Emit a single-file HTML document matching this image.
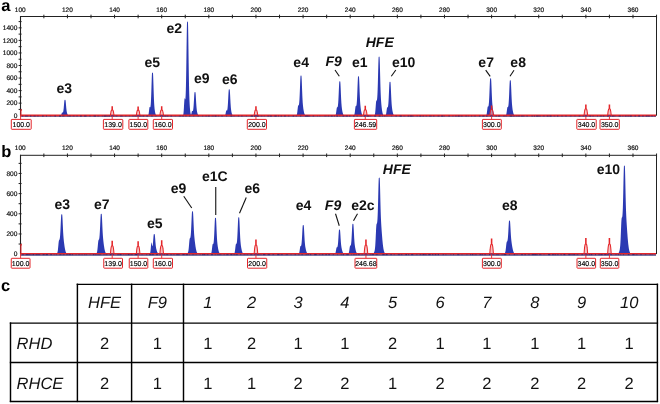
<!DOCTYPE html>
<html><head><meta charset="utf-8"><style>
html,body{margin:0;padding:0;background:#fff;}
svg{display:block;}
text{font-family:"Liberation Sans",Arial,sans-serif;text-rendering:geometricPrecision;}
.ax{font-size:6.5px;fill:#111;stroke:#111;stroke-width:0.2px;}
.ay{font-size:6.6px;fill:#111;stroke:#111;stroke-width:0.2px;}
.bx{font-size:7px;fill:#000;stroke:#000;stroke-width:0.15px;}
.lb{font-size:14px;font-weight:bold;fill:#111;}
.it{font-style:italic;}
.pl{font-size:16.5px;font-weight:bold;fill:#000;}
.tb{font-size:16.5px;fill:#111;}
</style></head><body>
<svg width="660" height="404" viewBox="0 0 660 404">
<rect width="660" height="404" fill="#fff"/>
<line x1="20" y1="16.50" x2="657" y2="16.50" stroke="#222" stroke-width="1"/>
<line x1="20.5" y1="16.00" x2="20.5" y2="115.70" stroke="#222" stroke-width="1.1"/>
<line x1="656.5" y1="16.00" x2="656.5" y2="115.70" stroke="#222" stroke-width="1"/>
<line x1="43.87" y1="14.70" x2="43.87" y2="18.30" stroke="#222" stroke-width="1"/>
<line x1="67.43" y1="14.70" x2="67.43" y2="18.30" stroke="#222" stroke-width="1"/>
<line x1="91.00" y1="14.70" x2="91.00" y2="18.30" stroke="#222" stroke-width="1"/>
<line x1="114.56" y1="14.70" x2="114.56" y2="18.30" stroke="#222" stroke-width="1"/>
<line x1="138.12" y1="14.70" x2="138.12" y2="18.30" stroke="#222" stroke-width="1"/>
<line x1="161.69" y1="14.70" x2="161.69" y2="18.30" stroke="#222" stroke-width="1"/>
<line x1="185.26" y1="14.70" x2="185.26" y2="18.30" stroke="#222" stroke-width="1"/>
<line x1="208.82" y1="14.70" x2="208.82" y2="18.30" stroke="#222" stroke-width="1"/>
<line x1="232.39" y1="14.70" x2="232.39" y2="18.30" stroke="#222" stroke-width="1"/>
<line x1="255.95" y1="14.70" x2="255.95" y2="18.30" stroke="#222" stroke-width="1"/>
<line x1="279.52" y1="14.70" x2="279.52" y2="18.30" stroke="#222" stroke-width="1"/>
<line x1="303.08" y1="14.70" x2="303.08" y2="18.30" stroke="#222" stroke-width="1"/>
<line x1="326.65" y1="14.70" x2="326.65" y2="18.30" stroke="#222" stroke-width="1"/>
<line x1="350.21" y1="14.70" x2="350.21" y2="18.30" stroke="#222" stroke-width="1"/>
<line x1="373.78" y1="14.70" x2="373.78" y2="18.30" stroke="#222" stroke-width="1"/>
<line x1="397.34" y1="14.70" x2="397.34" y2="18.30" stroke="#222" stroke-width="1"/>
<line x1="420.91" y1="14.70" x2="420.91" y2="18.30" stroke="#222" stroke-width="1"/>
<line x1="444.47" y1="14.70" x2="444.47" y2="18.30" stroke="#222" stroke-width="1"/>
<line x1="468.04" y1="14.70" x2="468.04" y2="18.30" stroke="#222" stroke-width="1"/>
<line x1="491.60" y1="14.70" x2="491.60" y2="18.30" stroke="#222" stroke-width="1"/>
<line x1="515.16" y1="14.70" x2="515.16" y2="18.30" stroke="#222" stroke-width="1"/>
<line x1="538.73" y1="14.70" x2="538.73" y2="18.30" stroke="#222" stroke-width="1"/>
<line x1="562.29" y1="14.70" x2="562.29" y2="18.30" stroke="#222" stroke-width="1"/>
<line x1="585.86" y1="14.70" x2="585.86" y2="18.30" stroke="#222" stroke-width="1"/>
<line x1="609.42" y1="14.70" x2="609.42" y2="18.30" stroke="#222" stroke-width="1"/>
<line x1="632.99" y1="14.70" x2="632.99" y2="18.30" stroke="#222" stroke-width="1"/>
<line x1="656.55" y1="14.70" x2="656.55" y2="18.30" stroke="#222" stroke-width="1"/>
<text x="20.30" y="11.80" class="ax" text-anchor="middle">100</text>
<text x="67.43" y="11.80" class="ax" text-anchor="middle">120</text>
<text x="114.56" y="11.80" class="ax" text-anchor="middle">140</text>
<text x="161.69" y="11.80" class="ax" text-anchor="middle">160</text>
<text x="208.82" y="11.80" class="ax" text-anchor="middle">180</text>
<text x="255.95" y="11.80" class="ax" text-anchor="middle">200</text>
<text x="303.08" y="11.80" class="ax" text-anchor="middle">220</text>
<text x="350.21" y="11.80" class="ax" text-anchor="middle">240</text>
<text x="397.34" y="11.80" class="ax" text-anchor="middle">260</text>
<text x="444.47" y="11.80" class="ax" text-anchor="middle">280</text>
<text x="491.60" y="11.80" class="ax" text-anchor="middle">300</text>
<text x="538.73" y="11.80" class="ax" text-anchor="middle">320</text>
<text x="585.86" y="11.80" class="ax" text-anchor="middle">340</text>
<text x="632.99" y="11.80" class="ax" text-anchor="middle">360</text>
<line x1="18.6" y1="109.42" x2="21.6" y2="109.42" stroke="#222" stroke-width="1"/>
<line x1="18.6" y1="103.15" x2="21.6" y2="103.15" stroke="#222" stroke-width="1"/>
<line x1="18.6" y1="96.88" x2="21.6" y2="96.88" stroke="#222" stroke-width="1"/>
<line x1="18.6" y1="90.60" x2="21.6" y2="90.60" stroke="#222" stroke-width="1"/>
<line x1="18.6" y1="84.33" x2="21.6" y2="84.33" stroke="#222" stroke-width="1"/>
<line x1="18.6" y1="78.05" x2="21.6" y2="78.05" stroke="#222" stroke-width="1"/>
<line x1="18.6" y1="71.78" x2="21.6" y2="71.78" stroke="#222" stroke-width="1"/>
<line x1="18.6" y1="65.50" x2="21.6" y2="65.50" stroke="#222" stroke-width="1"/>
<line x1="18.6" y1="59.23" x2="21.6" y2="59.23" stroke="#222" stroke-width="1"/>
<line x1="18.6" y1="52.95" x2="21.6" y2="52.95" stroke="#222" stroke-width="1"/>
<line x1="18.6" y1="46.67" x2="21.6" y2="46.67" stroke="#222" stroke-width="1"/>
<line x1="18.6" y1="40.40" x2="21.6" y2="40.40" stroke="#222" stroke-width="1"/>
<line x1="18.6" y1="34.12" x2="21.6" y2="34.12" stroke="#222" stroke-width="1"/>
<line x1="18.6" y1="27.85" x2="21.6" y2="27.85" stroke="#222" stroke-width="1"/>
<line x1="18.6" y1="21.58" x2="21.6" y2="21.58" stroke="#222" stroke-width="1"/>
<text x="17.4" y="118.00" class="ay" text-anchor="end">0</text>
<text x="17.4" y="105.45" class="ay" text-anchor="end">200</text>
<text x="17.4" y="92.90" class="ay" text-anchor="end">400</text>
<text x="17.4" y="80.35" class="ay" text-anchor="end">600</text>
<text x="17.4" y="67.80" class="ay" text-anchor="end">800</text>
<text x="17.4" y="55.25" class="ay" text-anchor="end">1000</text>
<text x="17.4" y="42.70" class="ay" text-anchor="end">1200</text>
<text x="17.4" y="30.15" class="ay" text-anchor="end">1400</text>
<path d="M58.50,115.70 L58.15,115.70 L58.25,115.70 L58.35,115.70 L58.45,115.70 L58.55,115.70 L58.65,115.70 L58.75,115.70 L58.85,115.70 L58.95,115.70 L59.05,115.70 L59.15,115.70 L59.25,115.70 L59.35,115.70 L59.45,115.70 L59.55,115.70 L59.65,115.70 L59.75,115.70 L59.85,115.70 L59.95,115.69 L60.05,115.69 L60.15,115.68 L60.25,115.68 L60.35,115.66 L60.45,115.64 L60.55,115.61 L60.65,115.57 L60.75,115.51 L60.85,115.42 L60.95,115.30 L61.05,115.14 L61.15,114.95 L61.25,114.71 L61.35,114.44 L61.45,114.14 L61.55,113.83 L61.65,113.51 L61.75,113.21 L61.85,112.95 L61.95,112.74 L62.05,112.58 L62.15,112.49 L62.25,112.46 L62.35,112.47 L62.45,112.51 L62.55,112.55 L62.65,112.58 L62.75,112.57 L62.85,112.51 L62.95,112.38 L63.05,112.17 L63.15,111.86 L63.25,111.46 L63.35,110.94 L63.45,110.30 L63.55,109.55 L63.65,108.67 L63.75,107.67 L63.85,106.58 L63.95,105.43 L64.05,104.24 L64.15,103.09 L64.25,102.02 L64.35,101.10 L64.45,100.40 L64.55,99.95 L65.00,99.80 L65.45,99.95 L65.55,100.40 L65.65,101.10 L65.75,102.02 L65.85,103.09 L65.95,104.25 L66.05,105.43 L66.15,106.60 L66.25,107.70 L66.35,108.70 L66.45,109.60 L66.55,110.40 L66.65,111.08 L66.75,111.68 L66.85,112.19 L66.95,112.62 L67.05,113.01 L67.15,113.34 L67.25,113.63 L67.35,113.89 L67.45,114.13 L67.55,114.34 L67.65,114.52 L67.75,114.69 L67.85,114.84 L67.95,114.97 L68.05,115.08 L68.15,115.18 L68.25,115.27 L68.35,115.34 L68.45,115.41 L68.55,115.46 L68.65,115.51 L68.75,115.54 L68.85,115.57 L68.95,115.60 L69.05,115.62 L69.15,115.64 L69.25,115.65 L69.35,115.66 L69.45,115.67 L69.55,115.68 L69.65,115.68 L69.75,115.69 L69.85,115.69 L69.95,115.69 L70.05,115.69 L70.15,115.70 L70.25,115.70 L70.35,115.70 L70.45,115.70 L70.55,115.70 L70.65,115.70 L70.75,115.70 L70.85,115.70 L70.95,115.70 L71.05,115.70 L71.15,115.70 L71.25,115.70 L71.35,115.70 L71.00,115.70 Z" fill="#2b39b2"/>
<path d="M146.00,115.70 L145.65,115.70 L145.75,115.70 L145.85,115.70 L145.95,115.70 L146.05,115.70 L146.15,115.70 L146.25,115.70 L146.35,115.70 L146.45,115.70 L146.55,115.70 L146.65,115.70 L146.75,115.70 L146.85,115.70 L146.95,115.70 L147.05,115.70 L147.15,115.69 L147.25,115.69 L147.35,115.69 L147.45,115.68 L147.55,115.67 L147.65,115.66 L147.75,115.63 L147.85,115.60 L147.95,115.54 L148.05,115.46 L148.15,115.34 L148.25,115.17 L148.35,114.93 L148.45,114.61 L148.55,114.19 L148.65,113.66 L148.75,113.02 L148.85,112.29 L148.95,111.47 L149.05,110.62 L149.15,109.76 L149.25,108.94 L149.35,108.23 L149.45,107.65 L149.55,107.23 L149.65,106.98 L149.75,106.89 L149.85,106.92 L149.95,107.02 L150.05,107.14 L150.15,107.22 L150.25,107.20 L150.35,107.03 L150.45,106.68 L150.55,106.10 L150.65,105.27 L150.75,104.17 L150.85,102.76 L150.95,101.04 L151.05,98.98 L151.15,96.59 L151.25,93.90 L151.35,90.93 L151.45,87.79 L151.55,84.57 L151.65,81.43 L151.75,78.53 L151.85,76.04 L151.95,74.12 L152.05,72.91 L152.50,72.50 L152.95,72.91 L153.05,74.12 L153.15,76.04 L153.25,78.53 L153.35,81.43 L153.45,84.58 L153.55,87.80 L153.65,90.96 L153.75,93.95 L153.85,96.69 L153.95,99.14 L154.05,101.29 L154.15,103.16 L154.25,104.77 L154.35,106.15 L154.45,107.34 L154.55,108.38 L154.65,109.28 L154.75,110.08 L154.85,110.80 L154.95,111.43 L155.05,112.00 L155.15,112.50 L155.25,112.96 L155.35,113.36 L155.45,113.71 L155.55,114.02 L155.65,114.29 L155.75,114.53 L155.85,114.73 L155.95,114.90 L156.05,115.05 L156.15,115.17 L156.25,115.27 L156.35,115.36 L156.45,115.43 L156.55,115.48 L156.65,115.53 L156.75,115.57 L156.85,115.60 L156.95,115.62 L157.05,115.64 L157.15,115.65 L157.25,115.66 L157.35,115.67 L157.45,115.68 L157.55,115.69 L157.65,115.69 L157.75,115.69 L157.85,115.69 L157.95,115.70 L158.05,115.70 L158.15,115.70 L158.25,115.70 L158.35,115.70 L158.45,115.70 L158.55,115.70 L158.65,115.70 L158.75,115.70 L158.85,115.70 L158.50,115.70 Z" fill="#2b39b2"/>
<path d="M181.00,115.70 L180.65,115.70 L180.75,115.70 L180.85,115.70 L180.95,115.70 L181.05,115.70 L181.15,115.70 L181.25,115.70 L181.35,115.70 L181.45,115.70 L181.55,115.70 L181.65,115.70 L181.75,115.70 L181.85,115.70 L181.95,115.70 L182.05,115.70 L182.15,115.70 L182.25,115.69 L182.35,115.69 L182.45,115.68 L182.55,115.67 L182.65,115.65 L182.75,115.61 L182.85,115.55 L182.95,115.45 L183.05,115.29 L183.15,115.06 L183.25,114.71 L183.35,114.23 L183.45,113.57 L183.55,112.71 L183.65,111.62 L183.75,110.31 L183.85,108.79 L183.95,107.10 L184.05,105.33 L184.15,103.57 L184.25,101.93 L184.35,100.50 L184.45,99.37 L184.55,98.60 L184.65,98.21 L184.75,98.15 L184.85,98.35 L184.95,98.70 L185.05,99.08 L185.15,99.35 L185.25,99.38 L185.35,99.06 L185.45,98.30 L185.55,97.03 L185.65,95.17 L185.75,92.67 L185.85,89.48 L185.95,85.57 L186.05,80.91 L186.15,75.50 L186.25,69.39 L186.35,62.70 L186.45,55.61 L186.55,48.37 L186.65,41.31 L186.75,34.80 L186.85,29.22 L186.95,24.93 L187.05,22.22 L187.50,21.30 L187.95,22.22 L188.05,24.93 L188.15,29.22 L188.25,34.80 L188.35,41.32 L188.45,48.39 L188.55,55.65 L188.65,62.77 L188.75,69.51 L188.85,75.70 L188.95,81.25 L189.05,86.13 L189.15,90.35 L189.25,93.98 L189.35,97.08 L189.45,99.74 L189.55,102.01 L189.65,103.98 L189.75,105.68 L189.85,107.16 L189.95,108.45 L190.05,109.57 L190.15,110.55 L190.25,111.40 L190.35,112.14 L190.45,112.76 L190.55,113.30 L190.65,113.75 L190.75,114.13 L190.85,114.44 L190.95,114.70 L191.05,114.91 L191.15,115.08 L191.25,115.22 L191.35,115.33 L191.45,115.42 L191.55,115.49 L191.65,115.54 L191.75,115.58 L191.85,115.61 L191.95,115.63 L192.05,115.65 L192.15,115.67 L192.25,115.67 L192.35,115.68 L192.45,115.69 L192.55,115.69 L192.65,115.69 L192.75,115.70 L192.85,115.70 L192.95,115.70 L193.05,115.70 L193.15,115.70 L193.25,115.70 L193.35,115.70 L193.45,115.70 L193.55,115.70 L193.65,115.70 L193.75,115.70 L193.85,115.70 L193.50,115.70 Z" fill="#2b39b2"/>
<path d="M188.50,115.70 L188.15,115.70 L188.25,115.70 L188.35,115.70 L188.45,115.70 L188.55,115.70 L188.65,115.70 L188.75,115.70 L188.85,115.70 L188.95,115.70 L189.05,115.70 L189.15,115.70 L189.25,115.70 L189.35,115.70 L189.45,115.70 L189.55,115.70 L189.65,115.70 L189.75,115.70 L189.85,115.69 L189.95,115.69 L190.05,115.68 L190.15,115.68 L190.25,115.66 L190.35,115.64 L190.45,115.61 L190.55,115.57 L190.65,115.50 L190.75,115.41 L190.85,115.28 L190.95,115.10 L191.05,114.87 L191.15,114.58 L191.25,114.23 L191.35,113.83 L191.45,113.38 L191.55,112.91 L191.65,112.44 L191.75,111.99 L191.85,111.60 L191.95,111.28 L192.05,111.05 L192.15,110.92 L192.25,110.87 L192.35,110.88 L192.45,110.94 L192.55,111.01 L192.65,111.05 L192.75,111.04 L192.85,110.95 L192.95,110.75 L193.05,110.43 L193.15,109.98 L193.25,109.37 L193.35,108.60 L193.45,107.66 L193.55,106.53 L193.65,105.22 L193.75,103.74 L193.85,102.11 L193.95,100.39 L194.05,98.62 L194.15,96.90 L194.25,95.31 L194.35,93.94 L194.45,92.89 L194.55,92.23 L195.00,92.00 L195.45,92.23 L195.55,92.89 L195.65,93.94 L195.75,95.31 L195.85,96.90 L195.95,98.63 L196.05,100.40 L196.15,102.13 L196.25,103.77 L196.35,105.27 L196.45,106.61 L196.55,107.80 L196.65,108.82 L196.75,109.70 L196.85,110.46 L196.95,111.12 L197.05,111.68 L197.15,112.18 L197.25,112.62 L197.35,113.01 L197.45,113.36 L197.55,113.67 L197.65,113.95 L197.75,114.19 L197.85,114.41 L197.95,114.61 L198.05,114.78 L198.15,114.93 L198.25,115.06 L198.35,115.17 L198.45,115.26 L198.55,115.34 L198.65,115.41 L198.75,115.47 L198.85,115.51 L198.95,115.55 L199.05,115.58 L199.15,115.61 L199.25,115.63 L199.35,115.64 L199.45,115.66 L199.55,115.67 L199.65,115.67 L199.75,115.68 L199.85,115.69 L199.95,115.69 L200.05,115.69 L200.15,115.69 L200.25,115.70 L200.35,115.70 L200.45,115.70 L200.55,115.70 L200.65,115.70 L200.75,115.70 L200.85,115.70 L200.95,115.70 L201.05,115.70 L201.15,115.70 L201.25,115.70 L201.35,115.70 L201.00,115.70 Z" fill="#2b39b2"/>
<path d="M222.75,115.70 L222.40,115.70 L222.50,115.70 L222.60,115.70 L222.70,115.70 L222.80,115.70 L222.90,115.70 L223.00,115.70 L223.10,115.70 L223.20,115.70 L223.30,115.70 L223.40,115.70 L223.50,115.70 L223.60,115.70 L223.70,115.70 L223.80,115.70 L223.90,115.70 L224.00,115.69 L224.10,115.69 L224.20,115.69 L224.30,115.68 L224.40,115.67 L224.50,115.66 L224.60,115.64 L224.70,115.61 L224.80,115.56 L224.90,115.48 L225.00,115.38 L225.10,115.23 L225.20,115.03 L225.30,114.77 L225.40,114.45 L225.50,114.06 L225.60,113.61 L225.70,113.12 L225.80,112.59 L225.90,112.07 L226.00,111.57 L226.10,111.13 L226.20,110.78 L226.30,110.52 L226.40,110.37 L226.50,110.32 L226.60,110.33 L226.70,110.40 L226.80,110.47 L226.90,110.52 L227.00,110.51 L227.10,110.40 L227.20,110.19 L227.30,109.83 L227.40,109.33 L227.50,108.65 L227.60,107.79 L227.70,106.74 L227.80,105.48 L227.90,104.02 L228.00,102.38 L228.10,100.56 L228.20,98.64 L228.30,96.68 L228.40,94.76 L228.50,92.98 L228.60,91.46 L228.70,90.29 L228.80,89.55 L229.25,89.30 L229.70,89.55 L229.80,90.29 L229.90,91.46 L230.00,92.98 L230.10,94.76 L230.20,96.68 L230.30,98.65 L230.40,100.58 L230.50,102.41 L230.60,104.08 L230.70,105.58 L230.80,106.90 L230.90,108.04 L231.00,109.02 L231.10,109.86 L231.20,110.59 L231.30,111.23 L231.40,111.78 L231.50,112.27 L231.60,112.70 L231.70,113.09 L231.80,113.44 L231.90,113.75 L232.00,114.02 L232.10,114.27 L232.20,114.48 L232.30,114.67 L232.40,114.84 L232.50,114.98 L232.60,115.11 L232.70,115.21 L232.80,115.30 L232.90,115.38 L233.00,115.44 L233.10,115.49 L233.20,115.53 L233.30,115.57 L233.40,115.60 L233.50,115.62 L233.60,115.64 L233.70,115.65 L233.80,115.66 L233.90,115.67 L234.00,115.68 L234.10,115.68 L234.20,115.69 L234.30,115.69 L234.40,115.69 L234.50,115.70 L234.60,115.70 L234.70,115.70 L234.80,115.70 L234.90,115.70 L235.00,115.70 L235.10,115.70 L235.20,115.70 L235.30,115.70 L235.40,115.70 L235.50,115.70 L235.60,115.70 L235.25,115.70 Z" fill="#2b39b2"/>
<path d="M294.50,115.70 L294.15,115.70 L294.25,115.70 L294.35,115.70 L294.45,115.70 L294.55,115.70 L294.65,115.70 L294.75,115.70 L294.85,115.69 L294.95,115.69 L295.05,115.69 L295.15,115.69 L295.25,115.68 L295.35,115.68 L295.45,115.67 L295.55,115.66 L295.65,115.65 L295.75,115.64 L295.85,115.62 L295.95,115.60 L296.05,115.57 L296.15,115.54 L296.25,115.49 L296.35,115.43 L296.45,115.34 L296.55,115.22 L296.65,115.06 L296.75,114.84 L296.85,114.56 L296.95,114.19 L297.05,113.72 L297.15,113.14 L297.25,112.45 L297.35,111.66 L297.45,110.79 L297.55,109.87 L297.65,108.94 L297.75,108.06 L297.85,107.25 L297.95,106.57 L298.05,106.04 L298.15,105.67 L298.25,105.45 L298.35,105.35 L298.45,105.32 L298.55,105.32 L298.65,105.30 L298.75,105.20 L298.85,104.99 L298.95,104.62 L299.05,104.07 L299.15,103.32 L299.25,102.34 L299.35,101.11 L299.45,99.63 L299.55,97.87 L299.65,95.84 L299.75,93.55 L299.85,91.05 L299.95,88.39 L300.05,85.68 L300.15,83.03 L300.25,80.58 L300.35,78.48 L300.45,76.87 L300.55,75.85 L301.00,75.50 L301.45,75.85 L301.55,76.87 L301.65,78.48 L301.75,80.58 L301.85,83.03 L301.95,85.68 L302.05,88.40 L302.15,91.07 L302.25,93.60 L302.35,95.93 L302.45,98.02 L302.55,99.86 L302.65,101.48 L302.75,102.90 L302.85,104.13 L302.95,105.23 L303.05,106.20 L303.15,107.08 L303.25,107.89 L303.35,108.63 L303.45,109.31 L303.55,109.95 L303.65,110.54 L303.75,111.09 L303.85,111.60 L303.95,112.07 L304.05,112.50 L304.15,112.90 L304.25,113.25 L304.35,113.57 L304.45,113.86 L304.55,114.12 L304.65,114.34 L304.75,114.54 L304.85,114.72 L304.95,114.87 L305.05,115.00 L305.15,115.12 L305.25,115.21 L305.35,115.30 L305.45,115.37 L305.55,115.43 L305.65,115.48 L305.75,115.52 L305.85,115.55 L305.95,115.58 L306.05,115.61 L306.15,115.62 L306.25,115.64 L306.35,115.65 L306.45,115.66 L306.55,115.67 L306.65,115.68 L306.75,115.68 L306.85,115.69 L306.95,115.69 L307.05,115.69 L307.15,115.69 L307.25,115.70 L307.35,115.70 L307.00,115.70 Z" fill="#2b39b2"/>
<path d="M333.30,115.70 L332.95,115.70 L333.05,115.70 L333.15,115.70 L333.25,115.70 L333.35,115.70 L333.45,115.70 L333.55,115.70 L333.65,115.70 L333.75,115.70 L333.85,115.69 L333.95,115.69 L334.05,115.69 L334.15,115.69 L334.25,115.68 L334.35,115.68 L334.45,115.67 L334.55,115.67 L334.65,115.65 L334.75,115.64 L334.85,115.62 L334.95,115.60 L335.05,115.56 L335.15,115.52 L335.25,115.45 L335.35,115.36 L335.45,115.24 L335.55,115.06 L335.65,114.83 L335.75,114.53 L335.85,114.14 L335.95,113.67 L336.05,113.10 L336.15,112.44 L336.25,111.72 L336.35,110.95 L336.45,110.18 L336.55,109.44 L336.65,108.77 L336.75,108.21 L336.85,107.78 L336.95,107.48 L337.05,107.30 L337.15,107.23 L337.25,107.21 L337.35,107.22 L337.45,107.20 L337.55,107.12 L337.65,106.92 L337.75,106.60 L337.85,106.11 L337.95,105.45 L338.05,104.59 L338.15,103.52 L338.25,102.22 L338.35,100.68 L338.45,98.91 L338.55,96.92 L338.65,94.75 L338.75,92.45 L338.85,90.10 L338.95,87.80 L339.05,85.69 L339.15,83.87 L339.25,82.48 L339.35,81.60 L339.80,81.30 L340.25,81.60 L340.35,82.48 L340.45,83.87 L340.55,85.69 L340.65,87.81 L340.75,90.10 L340.85,92.46 L340.95,94.77 L341.05,96.97 L341.15,98.99 L341.25,100.81 L341.35,102.42 L341.45,103.83 L341.55,105.07 L341.65,106.15 L341.75,107.10 L341.85,107.95 L341.95,108.72 L342.05,109.41 L342.15,110.05 L342.25,110.63 L342.35,111.17 L342.45,111.67 L342.55,112.13 L342.65,112.55 L342.75,112.94 L342.85,113.29 L342.95,113.60 L343.05,113.89 L343.15,114.14 L343.25,114.37 L343.35,114.56 L343.45,114.74 L343.55,114.89 L343.65,115.02 L343.75,115.13 L343.85,115.23 L343.95,115.31 L344.05,115.38 L344.15,115.44 L344.25,115.49 L344.35,115.53 L344.45,115.56 L344.55,115.59 L344.65,115.61 L344.75,115.63 L344.85,115.64 L344.95,115.66 L345.05,115.67 L345.15,115.67 L345.25,115.68 L345.35,115.68 L345.45,115.69 L345.55,115.69 L345.65,115.69 L345.75,115.69 L345.85,115.70 L345.95,115.70 L346.05,115.70 L346.15,115.70 L345.80,115.70 Z" fill="#2b39b2"/>
<path d="M352.00,115.70 L351.65,115.70 L351.75,115.70 L351.85,115.70 L351.95,115.70 L352.05,115.70 L352.15,115.70 L352.25,115.70 L352.35,115.70 L352.45,115.70 L352.55,115.69 L352.65,115.69 L352.75,115.69 L352.85,115.69 L352.95,115.68 L353.05,115.68 L353.15,115.67 L353.25,115.66 L353.35,115.65 L353.45,115.63 L353.55,115.61 L353.65,115.58 L353.75,115.54 L353.85,115.49 L353.95,115.42 L354.05,115.31 L354.15,115.17 L354.25,114.97 L354.35,114.71 L354.45,114.36 L354.55,113.91 L354.65,113.37 L354.75,112.71 L354.85,111.96 L354.95,111.13 L355.05,110.25 L355.15,109.36 L355.25,108.51 L355.35,107.75 L355.45,107.10 L355.55,106.60 L355.65,106.26 L355.75,106.06 L355.85,105.97 L355.95,105.95 L356.05,105.96 L356.15,105.94 L356.25,105.84 L356.35,105.62 L356.45,105.25 L356.55,104.69 L356.65,103.93 L356.75,102.94 L356.85,101.71 L356.95,100.22 L357.05,98.46 L357.15,96.42 L357.25,94.14 L357.35,91.64 L357.45,89.00 L357.55,86.30 L357.65,83.67 L357.75,81.24 L357.85,79.16 L357.95,77.55 L358.05,76.54 L358.50,76.20 L358.95,76.54 L359.05,77.55 L359.15,79.16 L359.25,81.24 L359.35,83.67 L359.45,86.31 L359.55,89.01 L359.65,91.67 L359.75,94.19 L359.85,96.51 L359.95,98.60 L360.05,100.45 L360.15,102.07 L360.25,103.49 L360.35,104.73 L360.45,105.83 L360.55,106.80 L360.65,107.68 L360.75,108.48 L360.85,109.21 L360.95,109.88 L361.05,110.50 L361.15,111.08 L361.25,111.60 L361.35,112.09 L361.45,112.53 L361.55,112.93 L361.65,113.29 L361.75,113.62 L361.85,113.91 L361.95,114.17 L362.05,114.40 L362.15,114.60 L362.25,114.77 L362.35,114.92 L362.45,115.05 L362.55,115.16 L362.65,115.25 L362.75,115.33 L362.85,115.40 L362.95,115.46 L363.05,115.50 L363.15,115.54 L363.25,115.57 L363.35,115.60 L363.45,115.62 L363.55,115.64 L363.65,115.65 L363.75,115.66 L363.85,115.67 L363.95,115.68 L364.05,115.68 L364.15,115.69 L364.25,115.69 L364.35,115.69 L364.45,115.69 L364.55,115.70 L364.65,115.70 L364.75,115.70 L364.85,115.70 L364.50,115.70 Z" fill="#2b39b2"/>
<path d="M372.60,115.70 L372.25,115.70 L372.35,115.70 L372.45,115.70 L372.55,115.70 L372.65,115.70 L372.75,115.69 L372.85,115.69 L372.95,115.69 L373.05,115.69 L373.15,115.68 L373.25,115.68 L373.35,115.67 L373.45,115.67 L373.55,115.66 L373.65,115.64 L373.75,115.63 L373.85,115.61 L373.95,115.59 L374.05,115.55 L374.15,115.51 L374.25,115.46 L374.35,115.39 L374.45,115.30 L374.55,115.17 L374.65,115.00 L374.75,114.76 L374.85,114.44 L374.95,114.02 L375.05,113.47 L375.15,112.78 L375.25,111.93 L375.35,110.92 L375.45,109.76 L375.55,108.48 L375.65,107.13 L375.75,105.77 L375.85,104.46 L375.95,103.28 L376.05,102.28 L376.15,101.50 L376.25,100.96 L376.35,100.63 L376.45,100.48 L376.55,100.44 L376.65,100.45 L376.75,100.41 L376.85,100.27 L376.95,99.95 L377.05,99.41 L377.15,98.61 L377.25,97.50 L377.35,96.06 L377.45,94.26 L377.55,92.07 L377.65,89.49 L377.75,86.50 L377.85,83.14 L377.95,79.45 L378.05,75.55 L378.15,71.56 L378.25,67.66 L378.35,64.07 L378.45,60.98 L378.55,58.61 L378.65,57.11 L379.10,56.60 L379.55,57.11 L379.65,58.61 L379.75,60.98 L379.85,64.07 L379.95,67.67 L380.05,71.57 L380.15,75.57 L380.25,79.50 L380.35,83.21 L380.45,86.63 L380.55,89.70 L380.65,92.42 L380.75,94.80 L380.85,96.88 L380.95,98.70 L381.05,100.30 L381.15,101.74 L381.25,103.03 L381.35,104.21 L381.45,105.30 L381.55,106.31 L381.65,107.25 L381.75,108.12 L381.85,108.93 L381.95,109.68 L382.05,110.37 L382.15,111.00 L382.25,111.58 L382.35,112.10 L382.45,112.57 L382.55,112.99 L382.65,113.37 L382.75,113.70 L382.85,114.00 L382.95,114.26 L383.05,114.48 L383.15,114.67 L383.25,114.84 L383.35,114.99 L383.45,115.11 L383.55,115.21 L383.65,115.30 L383.75,115.37 L383.85,115.43 L383.95,115.48 L384.05,115.53 L384.15,115.56 L384.25,115.59 L384.35,115.61 L384.45,115.63 L384.55,115.65 L384.65,115.66 L384.75,115.67 L384.85,115.67 L384.95,115.68 L385.05,115.68 L385.15,115.69 L385.25,115.69 L385.35,115.69 L385.45,115.69 L385.10,115.70 Z" fill="#2b39b2"/>
<path d="M383.50,115.70 L383.15,115.70 L383.25,115.70 L383.35,115.70 L383.45,115.70 L383.55,115.70 L383.65,115.70 L383.75,115.70 L383.85,115.70 L383.95,115.70 L384.05,115.69 L384.15,115.69 L384.25,115.69 L384.35,115.69 L384.45,115.68 L384.55,115.68 L384.65,115.67 L384.75,115.67 L384.85,115.66 L384.95,115.64 L385.05,115.62 L385.15,115.60 L385.25,115.57 L385.35,115.52 L385.45,115.46 L385.55,115.37 L385.65,115.24 L385.75,115.07 L385.85,114.85 L385.95,114.55 L386.05,114.17 L386.15,113.70 L386.25,113.14 L386.35,112.49 L386.45,111.78 L386.55,111.02 L386.65,110.26 L386.75,109.53 L386.85,108.88 L386.95,108.32 L387.05,107.89 L387.15,107.60 L387.25,107.42 L387.35,107.35 L387.45,107.34 L387.55,107.34 L387.65,107.32 L387.75,107.24 L387.85,107.05 L387.95,106.73 L388.05,106.25 L388.15,105.60 L388.25,104.75 L388.35,103.69 L388.45,102.41 L388.55,100.90 L388.65,99.16 L388.75,97.20 L388.85,95.05 L388.95,92.78 L389.05,90.47 L389.15,88.21 L389.25,86.12 L389.35,84.34 L389.45,82.96 L389.55,82.10 L390.00,81.80 L390.45,82.10 L390.55,82.96 L390.65,84.34 L390.75,86.13 L390.85,88.21 L390.95,90.47 L391.05,92.80 L391.15,95.08 L391.25,97.24 L391.35,99.23 L391.45,101.02 L391.55,102.61 L391.65,104.00 L391.75,105.22 L391.85,106.29 L391.95,107.23 L392.05,108.06 L392.15,108.82 L392.25,109.50 L392.35,110.13 L392.45,110.71 L392.55,111.24 L392.65,111.73 L392.75,112.18 L392.85,112.60 L392.95,112.98 L393.05,113.32 L393.15,113.64 L393.25,113.91 L393.35,114.16 L393.45,114.39 L393.55,114.58 L393.65,114.75 L393.75,114.90 L393.85,115.03 L393.95,115.14 L394.05,115.24 L394.15,115.32 L394.25,115.39 L394.35,115.44 L394.45,115.49 L394.55,115.53 L394.65,115.56 L394.75,115.59 L394.85,115.61 L394.95,115.63 L395.05,115.65 L395.15,115.66 L395.25,115.67 L395.35,115.67 L395.45,115.68 L395.55,115.68 L395.65,115.69 L395.75,115.69 L395.85,115.69 L395.95,115.69 L396.05,115.70 L396.15,115.70 L396.25,115.70 L396.35,115.70 L396.00,115.70 Z" fill="#2b39b2"/>
<path d="M484.10,115.70 L483.75,115.70 L483.85,115.70 L483.95,115.70 L484.05,115.70 L484.15,115.70 L484.25,115.70 L484.35,115.70 L484.45,115.70 L484.55,115.70 L484.65,115.69 L484.75,115.69 L484.85,115.69 L484.95,115.69 L485.05,115.68 L485.15,115.68 L485.25,115.67 L485.35,115.66 L485.45,115.65 L485.55,115.64 L485.65,115.62 L485.75,115.59 L485.85,115.55 L485.95,115.50 L486.05,115.43 L486.15,115.33 L486.25,115.19 L486.35,115.01 L486.45,114.76 L486.55,114.43 L486.65,114.00 L486.75,113.48 L486.85,112.86 L486.95,112.15 L487.05,111.36 L487.15,110.52 L487.25,109.68 L487.35,108.88 L487.45,108.15 L487.55,107.54 L487.65,107.07 L487.75,106.74 L487.85,106.55 L487.95,106.46 L488.05,106.45 L488.15,106.46 L488.25,106.44 L488.35,106.34 L488.45,106.13 L488.55,105.78 L488.65,105.25 L488.75,104.53 L488.85,103.59 L488.95,102.42 L489.05,101.00 L489.15,99.33 L489.25,97.40 L489.35,95.23 L489.45,92.86 L489.55,90.35 L489.65,87.79 L489.75,85.29 L489.85,82.98 L489.95,81.01 L490.05,79.49 L490.15,78.53 L490.60,78.20 L491.05,78.53 L491.15,79.49 L491.25,81.01 L491.35,82.98 L491.45,85.29 L491.55,87.80 L491.65,90.36 L491.75,92.89 L491.85,95.28 L491.95,97.48 L492.05,99.46 L492.15,101.22 L492.25,102.76 L492.35,104.11 L492.45,105.29 L492.55,106.33 L492.65,107.25 L492.75,108.09 L492.85,108.84 L492.95,109.54 L493.05,110.18 L493.15,110.77 L493.25,111.31 L493.35,111.81 L493.45,112.27 L493.55,112.69 L493.65,113.07 L493.75,113.42 L493.85,113.73 L493.95,114.00 L494.05,114.25 L494.15,114.46 L494.25,114.65 L494.35,114.82 L494.45,114.96 L494.55,115.08 L494.65,115.19 L494.75,115.28 L494.85,115.35 L494.95,115.42 L495.05,115.47 L495.15,115.51 L495.25,115.55 L495.35,115.58 L495.45,115.60 L495.55,115.62 L495.65,115.64 L495.75,115.65 L495.85,115.66 L495.95,115.67 L496.05,115.68 L496.15,115.68 L496.25,115.69 L496.35,115.69 L496.45,115.69 L496.55,115.69 L496.65,115.70 L496.75,115.70 L496.85,115.70 L496.95,115.70 L496.60,115.70 Z" fill="#2b39b2"/>
<path d="M503.80,115.70 L503.45,115.70 L503.55,115.70 L503.65,115.70 L503.75,115.70 L503.85,115.70 L503.95,115.70 L504.05,115.70 L504.15,115.70 L504.25,115.70 L504.35,115.69 L504.45,115.69 L504.55,115.69 L504.65,115.69 L504.75,115.68 L504.85,115.68 L504.95,115.67 L505.05,115.66 L505.15,115.65 L505.25,115.64 L505.35,115.62 L505.45,115.60 L505.55,115.56 L505.65,115.51 L505.75,115.45 L505.85,115.35 L505.95,115.22 L506.05,115.05 L506.15,114.81 L506.25,114.50 L506.35,114.10 L506.45,113.61 L506.55,113.02 L506.65,112.35 L506.75,111.60 L506.85,110.81 L506.95,110.02 L507.05,109.26 L507.15,108.57 L507.25,108.00 L507.35,107.55 L507.45,107.24 L507.55,107.06 L507.65,106.98 L507.75,106.97 L507.85,106.97 L507.95,106.95 L508.05,106.87 L508.15,106.67 L508.25,106.33 L508.35,105.84 L508.45,105.15 L508.55,104.27 L508.65,103.16 L508.75,101.82 L508.85,100.25 L508.95,98.42 L509.05,96.38 L509.15,94.14 L509.25,91.77 L509.35,89.35 L509.45,86.99 L509.55,84.81 L509.65,82.95 L509.75,81.51 L509.85,80.61 L510.30,80.30 L510.75,80.61 L510.85,81.51 L510.95,82.95 L511.05,84.82 L511.15,87.00 L511.25,89.36 L511.35,91.78 L511.45,94.17 L511.55,96.42 L511.65,98.50 L511.75,100.37 L511.85,102.03 L511.95,103.49 L512.05,104.76 L512.15,105.87 L512.25,106.85 L512.35,107.73 L512.45,108.51 L512.55,109.23 L512.65,109.88 L512.75,110.49 L512.85,111.04 L512.95,111.56 L513.05,112.03 L513.15,112.46 L513.25,112.86 L513.35,113.22 L513.45,113.54 L513.55,113.84 L513.65,114.10 L513.75,114.33 L513.85,114.53 L513.95,114.71 L514.05,114.87 L514.15,115.00 L514.25,115.12 L514.35,115.22 L514.45,115.30 L514.55,115.37 L514.65,115.43 L514.75,115.48 L514.85,115.52 L514.95,115.56 L515.05,115.59 L515.15,115.61 L515.25,115.63 L515.35,115.64 L515.45,115.66 L515.55,115.67 L515.65,115.67 L515.75,115.68 L515.85,115.68 L515.95,115.69 L516.05,115.69 L516.15,115.69 L516.25,115.69 L516.35,115.70 L516.45,115.70 L516.55,115.70 L516.65,115.70 L516.30,115.70 Z" fill="#2b39b2"/>
<path d="M20.9,115.70 L20.9,109.20 L21.6,110.70" fill="none" stroke="#e4262a" stroke-width="1.1"/>
<polyline points="110.40,115.70 110.43,115.48 110.45,115.25 110.48,115.03 110.50,114.81 110.53,114.59 110.56,114.37 110.59,114.14 110.62,113.92 110.65,113.70 110.68,113.47 110.71,113.25 110.74,113.03 110.78,112.81 110.82,112.59 110.85,112.36 110.90,112.14 110.94,111.92 110.99,111.69 111.04,111.47 111.09,111.25 111.15,111.03 111.22,110.81 111.30,110.58 111.40,110.36 111.53,110.14 111.95,109.91 111.95,109.69 111.95,109.47 111.95,109.25 111.95,109.03 111.95,108.80 111.95,108.58 111.95,108.36 111.95,108.13 111.95,107.91 111.95,107.69 111.95,107.47 111.95,107.25 111.95,107.02 111.95,106.80 112.45,106.80 112.45,107.02 112.45,107.25 112.45,107.47 112.45,107.69 112.45,107.91 112.45,108.13 112.45,108.36 112.45,108.58 112.45,108.80 112.45,109.03 112.45,109.25 112.45,109.47 112.45,109.69 112.45,109.91 112.87,110.14 113.01,110.36 113.11,110.58 113.19,110.81 113.26,111.03 113.32,111.25 113.37,111.47 113.42,111.69 113.47,111.92 113.51,112.14 113.55,112.36 113.59,112.59 113.63,112.81 113.66,113.03 113.70,113.25 113.73,113.47 113.76,113.70 113.79,113.92 113.82,114.14 113.85,114.37 113.88,114.59 113.90,114.81 113.93,115.03 113.95,115.25 113.98,115.48 114.00,115.70" fill="#f4a8a8" fill-opacity="0.7" stroke="#e4262a" stroke-width="1.05"/>
<polyline points="136.32,115.70 136.35,115.48 136.37,115.27 136.40,115.05 136.43,114.83 136.45,114.61 136.48,114.39 136.51,114.18 136.54,113.96 136.57,113.74 136.60,113.53 136.63,113.31 136.66,113.09 136.70,112.87 136.74,112.66 136.78,112.44 136.82,112.22 136.86,112.00 136.91,111.78 136.96,111.57 137.01,111.35 137.07,111.13 137.14,110.92 137.22,110.70 137.32,110.48 137.45,110.26 137.88,110.05 137.88,109.83 137.88,109.61 137.88,109.39 137.88,109.17 137.88,108.96 137.88,108.74 137.88,108.52 137.88,108.31 137.88,108.09 137.88,107.87 137.88,107.65 137.88,107.44 137.88,107.22 137.88,107.00 138.38,107.00 138.38,107.22 138.38,107.44 138.38,107.65 138.38,107.87 138.38,108.09 138.38,108.31 138.38,108.52 138.38,108.74 138.38,108.96 138.38,109.17 138.38,109.39 138.38,109.61 138.38,109.83 138.38,110.05 138.80,110.26 138.93,110.48 139.03,110.70 139.11,110.92 139.18,111.13 139.24,111.35 139.29,111.57 139.34,111.78 139.39,112.00 139.43,112.22 139.47,112.44 139.51,112.66 139.55,112.87 139.59,113.09 139.62,113.31 139.65,113.53 139.68,113.74 139.71,113.96 139.74,114.18 139.77,114.39 139.80,114.61 139.82,114.83 139.85,115.05 139.88,115.27 139.90,115.48 139.93,115.70" fill="#f4a8a8" fill-opacity="0.7" stroke="#e4262a" stroke-width="1.05"/>
<polyline points="159.89,115.70 159.91,115.48 159.94,115.25 159.96,115.03 159.99,114.81 160.02,114.59 160.04,114.37 160.07,114.14 160.10,113.92 160.13,113.70 160.16,113.47 160.20,113.25 160.23,113.03 160.27,112.81 160.30,112.59 160.34,112.36 160.38,112.14 160.43,111.92 160.47,111.69 160.52,111.47 160.58,111.25 160.64,111.03 160.71,110.81 160.79,110.58 160.88,110.36 161.02,110.14 161.44,109.91 161.44,109.69 161.44,109.47 161.44,109.25 161.44,109.03 161.44,108.80 161.44,108.58 161.44,108.36 161.44,108.13 161.44,107.91 161.44,107.69 161.44,107.47 161.44,107.25 161.44,107.02 161.44,106.80 161.94,106.80 161.94,107.02 161.94,107.25 161.94,107.47 161.94,107.69 161.94,107.91 161.94,108.13 161.94,108.36 161.94,108.58 161.94,108.80 161.94,109.03 161.94,109.25 161.94,109.47 161.94,109.69 161.94,109.91 162.36,110.14 162.50,110.36 162.59,110.58 162.67,110.81 162.74,111.03 162.80,111.25 162.86,111.47 162.91,111.69 162.95,111.92 163.00,112.14 163.04,112.36 163.08,112.59 163.11,112.81 163.15,113.03 163.18,113.25 163.22,113.47 163.25,113.70 163.28,113.92 163.31,114.14 163.34,114.37 163.36,114.59 163.39,114.81 163.42,115.03 163.44,115.25 163.47,115.48 163.49,115.70" fill="#f4a8a8" fill-opacity="0.7" stroke="#e4262a" stroke-width="1.05"/>
<polyline points="254.15,115.70 254.17,115.48 254.20,115.25 254.22,115.03 254.25,114.81 254.28,114.59 254.30,114.37 254.33,114.14 254.36,113.92 254.39,113.70 254.42,113.47 254.46,113.25 254.49,113.03 254.53,112.81 254.56,112.59 254.60,112.36 254.64,112.14 254.69,111.92 254.73,111.69 254.78,111.47 254.84,111.25 254.90,111.03 254.97,110.81 255.05,110.58 255.14,110.36 255.28,110.14 255.70,109.91 255.70,109.69 255.70,109.47 255.70,109.25 255.70,109.03 255.70,108.80 255.70,108.58 255.70,108.36 255.70,108.13 255.70,107.91 255.70,107.69 255.70,107.47 255.70,107.25 255.70,107.02 255.70,106.80 256.20,106.80 256.20,107.02 256.20,107.25 256.20,107.47 256.20,107.69 256.20,107.91 256.20,108.13 256.20,108.36 256.20,108.58 256.20,108.80 256.20,109.03 256.20,109.25 256.20,109.47 256.20,109.69 256.20,109.91 256.62,110.14 256.76,110.36 256.85,110.58 256.93,110.81 257.00,111.03 257.06,111.25 257.12,111.47 257.17,111.69 257.21,111.92 257.26,112.14 257.30,112.36 257.34,112.59 257.37,112.81 257.41,113.03 257.44,113.25 257.48,113.47 257.51,113.70 257.54,113.92 257.57,114.14 257.60,114.37 257.62,114.59 257.65,114.81 257.68,115.03 257.70,115.25 257.73,115.48 257.75,115.70" fill="#f4a8a8" fill-opacity="0.7" stroke="#e4262a" stroke-width="1.05"/>
<polyline points="363.47,115.70 363.49,115.47 363.52,115.23 363.54,115.00 363.57,114.76 363.59,114.53 363.62,114.29 363.65,114.06 363.68,113.82 363.71,113.59 363.74,113.35 363.77,113.11 363.81,112.88 363.84,112.64 363.88,112.41 363.92,112.17 363.96,111.94 364.00,111.70 364.05,111.47 364.10,111.23 364.16,111.00 364.22,110.77 364.28,110.53 364.36,110.30 364.46,110.06 364.60,109.83 365.02,109.59 365.02,109.36 365.02,109.12 365.02,108.89 365.02,108.65 365.02,108.41 365.02,108.18 365.02,107.94 365.02,107.71 365.02,107.47 365.02,107.24 365.02,107.00 365.02,106.77 365.02,106.53 365.02,106.30 365.52,106.30 365.52,106.53 365.52,106.77 365.52,107.00 365.52,107.24 365.52,107.47 365.52,107.71 365.52,107.94 365.52,108.18 365.52,108.41 365.52,108.65 365.52,108.89 365.52,109.12 365.52,109.36 365.52,109.59 365.94,109.83 366.07,110.06 366.17,110.30 366.25,110.53 366.32,110.77 366.38,111.00 366.44,111.23 366.49,111.47 366.53,111.70 366.58,111.94 366.62,112.17 366.66,112.41 366.69,112.64 366.73,112.88 366.76,113.11 366.79,113.35 366.83,113.59 366.86,113.82 366.89,114.06 366.91,114.29 366.94,114.53 366.97,114.76 366.99,115.00 367.02,115.23 367.04,115.47 367.07,115.70" fill="#f4a8a8" fill-opacity="0.7" stroke="#e4262a" stroke-width="1.05"/>
<polyline points="489.80,115.70 489.82,115.46 489.85,115.22 489.87,114.97 489.90,114.73 489.93,114.49 489.95,114.25 489.98,114.00 490.01,113.76 490.04,113.52 490.07,113.28 490.11,113.03 490.14,112.79 490.18,112.55 490.21,112.31 490.25,112.06 490.29,111.82 490.34,111.58 490.38,111.34 490.43,111.09 490.49,110.85 490.55,110.61 490.62,110.36 490.70,110.12 490.79,109.88 490.93,109.64 491.35,109.39 491.35,109.15 491.35,108.91 491.35,108.67 491.35,108.42 491.35,108.18 491.35,107.94 491.35,107.70 491.35,107.45 491.35,107.21 491.35,106.97 491.35,106.73 491.35,106.48 491.35,106.24 491.35,106.00 491.85,106.00 491.85,106.24 491.85,106.48 491.85,106.73 491.85,106.97 491.85,107.21 491.85,107.45 491.85,107.70 491.85,107.94 491.85,108.18 491.85,108.42 491.85,108.67 491.85,108.91 491.85,109.15 491.85,109.39 492.27,109.64 492.41,109.88 492.50,110.12 492.58,110.36 492.65,110.61 492.71,110.85 492.77,111.09 492.82,111.34 492.86,111.58 492.91,111.82 492.95,112.06 492.99,112.31 493.02,112.55 493.06,112.79 493.09,113.03 493.13,113.28 493.16,113.52 493.19,113.76 493.22,114.00 493.25,114.25 493.27,114.49 493.30,114.73 493.33,114.97 493.35,115.22 493.38,115.46 493.40,115.70" fill="#f4a8a8" fill-opacity="0.7" stroke="#e4262a" stroke-width="1.05"/>
<polyline points="584.06,115.70 584.08,115.43 584.11,115.17 584.13,114.90 584.16,114.63 584.19,114.36 584.21,114.09 584.24,113.83 584.27,113.56 584.30,113.29 584.33,113.03 584.37,112.76 584.40,112.49 584.44,112.22 584.47,111.95 584.51,111.69 584.55,111.42 584.60,111.15 584.64,110.89 584.69,110.62 584.75,110.35 584.81,110.08 584.88,109.81 584.96,109.55 585.05,109.28 585.19,109.01 585.61,108.75 585.61,108.48 585.61,108.21 585.61,107.94 585.61,107.67 585.61,107.41 585.61,107.14 585.61,106.87 585.61,106.61 585.61,106.34 585.61,106.07 585.61,105.80 585.61,105.53 585.61,105.27 585.61,105.00 586.11,105.00 586.11,105.27 586.11,105.53 586.11,105.80 586.11,106.07 586.11,106.34 586.11,106.61 586.11,106.87 586.11,107.14 586.11,107.41 586.11,107.67 586.11,107.94 586.11,108.21 586.11,108.48 586.11,108.75 586.53,109.01 586.67,109.28 586.76,109.55 586.84,109.81 586.91,110.08 586.97,110.35 587.03,110.62 587.08,110.89 587.12,111.15 587.17,111.42 587.21,111.69 587.25,111.95 587.28,112.22 587.32,112.49 587.35,112.76 587.39,113.03 587.42,113.29 587.45,113.56 587.48,113.83 587.51,114.09 587.53,114.36 587.56,114.63 587.59,114.90 587.61,115.17 587.64,115.43 587.66,115.70" fill="#f4a8a8" fill-opacity="0.7" stroke="#e4262a" stroke-width="1.05"/>
<polyline points="607.62,115.70 607.65,115.43 607.67,115.17 607.70,114.90 607.73,114.63 607.75,114.36 607.78,114.09 607.81,113.83 607.84,113.56 607.87,113.29 607.90,113.03 607.93,112.76 607.96,112.49 608.00,112.22 608.04,111.95 608.08,111.69 608.12,111.42 608.16,111.15 608.21,110.89 608.26,110.62 608.31,110.35 608.37,110.08 608.44,109.81 608.52,109.55 608.62,109.28 608.75,109.01 609.17,108.75 609.17,108.48 609.17,108.21 609.17,107.94 609.17,107.67 609.17,107.41 609.17,107.14 609.17,106.87 609.17,106.61 609.17,106.34 609.17,106.07 609.17,105.80 609.17,105.53 609.17,105.27 609.17,105.00 609.67,105.00 609.67,105.27 609.67,105.53 609.67,105.80 609.67,106.07 609.67,106.34 609.67,106.61 609.67,106.87 609.67,107.14 609.67,107.41 609.67,107.67 609.67,107.94 609.67,108.21 609.67,108.48 609.67,108.75 610.10,109.01 610.23,109.28 610.33,109.55 610.41,109.81 610.48,110.08 610.54,110.35 610.59,110.62 610.64,110.89 610.69,111.15 610.73,111.42 610.77,111.69 610.81,111.95 610.85,112.22 610.89,112.49 610.92,112.76 610.95,113.03 610.98,113.29 611.01,113.56 611.04,113.83 611.07,114.09 611.10,114.36 611.12,114.63 611.15,114.90 611.18,115.17 611.20,115.43 611.22,115.70" fill="#f4a8a8" fill-opacity="0.7" stroke="#e4262a" stroke-width="1.05"/>
<line x1="20.3" y1="115.60" x2="656" y2="115.60" stroke="#e4262a" stroke-width="2.00"/>
<line x1="20.3" y1="116.45" x2="656" y2="116.45" stroke="#1c1c6a" stroke-width="0.90" opacity="0.55"/>
<rect x="22.0" y="115.55" width="1.2" height="1" fill="#1c1c6a" opacity="0.57"/>
<rect x="25.1" y="115.55" width="1.8" height="1" fill="#1c1c6a" opacity="0.61"/>
<rect x="27.3" y="115.55" width="0.8" height="1" fill="#1c1c6a" opacity="0.72"/>
<rect x="30.1" y="115.55" width="1.2" height="1" fill="#1c1c6a" opacity="0.80"/>
<rect x="33.5" y="115.55" width="2.2" height="1" fill="#1c1c6a" opacity="0.54"/>
<rect x="37.4" y="115.55" width="1.1" height="1" fill="#1c1c6a" opacity="0.62"/>
<rect x="42.0" y="115.55" width="1.7" height="1" fill="#1c1c6a" opacity="0.67"/>
<rect x="46.0" y="115.55" width="0.9" height="1" fill="#1c1c6a" opacity="0.68"/>
<rect x="49.8" y="115.55" width="1.3" height="1" fill="#1c1c6a" opacity="0.32"/>
<rect x="54.4" y="115.55" width="1.6" height="1" fill="#1c1c6a" opacity="0.66"/>
<rect x="59.0" y="115.55" width="2.0" height="1" fill="#1c1c6a" opacity="0.76"/>
<rect x="62.2" y="115.55" width="2.2" height="1" fill="#1c1c6a" opacity="0.52"/>
<rect x="67.0" y="115.55" width="2.3" height="1" fill="#1c1c6a" opacity="0.35"/>
<rect x="69.4" y="115.55" width="1.2" height="1" fill="#1c1c6a" opacity="0.78"/>
<rect x="72.7" y="115.55" width="1.9" height="1" fill="#1c1c6a" opacity="0.45"/>
<rect x="76.3" y="115.55" width="1.5" height="1" fill="#1c1c6a" opacity="0.48"/>
<rect x="80.0" y="115.55" width="1.8" height="1" fill="#1c1c6a" opacity="0.75"/>
<rect x="84.1" y="115.55" width="2.4" height="1" fill="#1c1c6a" opacity="0.73"/>
<rect x="89.0" y="115.55" width="1.9" height="1" fill="#1c1c6a" opacity="0.38"/>
<rect x="93.6" y="115.55" width="2.4" height="1" fill="#1c1c6a" opacity="0.75"/>
<rect x="97.3" y="115.55" width="2.0" height="1" fill="#1c1c6a" opacity="0.41"/>
<rect x="101.8" y="115.55" width="1.8" height="1" fill="#1c1c6a" opacity="0.44"/>
<rect x="104.0" y="115.55" width="2.3" height="1" fill="#1c1c6a" opacity="0.79"/>
<rect x="106.3" y="115.55" width="2.2" height="1" fill="#1c1c6a" opacity="0.51"/>
<rect x="108.7" y="115.55" width="1.3" height="1" fill="#1c1c6a" opacity="0.68"/>
<rect x="113.4" y="115.55" width="0.9" height="1" fill="#1c1c6a" opacity="0.61"/>
<rect x="115.5" y="115.55" width="2.0" height="1" fill="#1c1c6a" opacity="0.47"/>
<rect x="120.1" y="115.55" width="2.5" height="1" fill="#1c1c6a" opacity="0.55"/>
<rect x="125.1" y="115.55" width="1.3" height="1" fill="#1c1c6a" opacity="0.34"/>
<rect x="128.9" y="115.55" width="0.9" height="1" fill="#1c1c6a" opacity="0.40"/>
<rect x="132.1" y="115.55" width="1.8" height="1" fill="#1c1c6a" opacity="0.38"/>
<rect x="134.3" y="115.55" width="2.3" height="1" fill="#1c1c6a" opacity="0.46"/>
<rect x="139.2" y="115.55" width="2.3" height="1" fill="#1c1c6a" opacity="0.49"/>
<rect x="142.5" y="115.55" width="1.7" height="1" fill="#1c1c6a" opacity="0.62"/>
<rect x="146.3" y="115.55" width="1.8" height="1" fill="#1c1c6a" opacity="0.61"/>
<rect x="151.1" y="115.55" width="1.7" height="1" fill="#1c1c6a" opacity="0.52"/>
<rect x="155.3" y="115.55" width="1.2" height="1" fill="#1c1c6a" opacity="0.45"/>
<rect x="160.2" y="115.55" width="1.7" height="1" fill="#1c1c6a" opacity="0.57"/>
<rect x="162.3" y="115.55" width="1.5" height="1" fill="#1c1c6a" opacity="0.59"/>
<rect x="164.3" y="115.55" width="1.8" height="1" fill="#1c1c6a" opacity="0.62"/>
<rect x="166.5" y="115.55" width="1.9" height="1" fill="#1c1c6a" opacity="0.53"/>
<rect x="170.5" y="115.55" width="1.4" height="1" fill="#1c1c6a" opacity="0.65"/>
<rect x="174.8" y="115.55" width="0.8" height="1" fill="#1c1c6a" opacity="0.33"/>
<rect x="178.8" y="115.55" width="2.4" height="1" fill="#1c1c6a" opacity="0.43"/>
<rect x="182.2" y="115.55" width="1.8" height="1" fill="#1c1c6a" opacity="0.46"/>
<rect x="185.3" y="115.55" width="1.3" height="1" fill="#1c1c6a" opacity="0.48"/>
<rect x="189.0" y="115.55" width="1.3" height="1" fill="#1c1c6a" opacity="0.49"/>
<rect x="193.4" y="115.55" width="0.8" height="1" fill="#1c1c6a" opacity="0.58"/>
<rect x="197.6" y="115.55" width="1.3" height="1" fill="#1c1c6a" opacity="0.41"/>
<rect x="202.0" y="115.55" width="1.2" height="1" fill="#1c1c6a" opacity="0.39"/>
<rect x="205.3" y="115.55" width="2.0" height="1" fill="#1c1c6a" opacity="0.35"/>
<rect x="208.2" y="115.55" width="1.4" height="1" fill="#1c1c6a" opacity="0.72"/>
<rect x="211.6" y="115.55" width="2.3" height="1" fill="#1c1c6a" opacity="0.38"/>
<rect x="214.6" y="115.55" width="1.9" height="1" fill="#1c1c6a" opacity="0.74"/>
<rect x="217.9" y="115.55" width="1.2" height="1" fill="#1c1c6a" opacity="0.36"/>
<rect x="221.5" y="115.55" width="1.1" height="1" fill="#1c1c6a" opacity="0.70"/>
<rect x="226.0" y="115.55" width="1.1" height="1" fill="#1c1c6a" opacity="0.44"/>
<rect x="230.4" y="115.55" width="1.9" height="1" fill="#1c1c6a" opacity="0.70"/>
<rect x="233.5" y="115.55" width="1.0" height="1" fill="#1c1c6a" opacity="0.45"/>
<rect x="237.9" y="115.55" width="1.3" height="1" fill="#1c1c6a" opacity="0.47"/>
<rect x="241.1" y="115.55" width="1.5" height="1" fill="#1c1c6a" opacity="0.50"/>
<rect x="245.9" y="115.55" width="1.1" height="1" fill="#1c1c6a" opacity="0.30"/>
<rect x="250.7" y="115.55" width="2.3" height="1" fill="#1c1c6a" opacity="0.79"/>
<rect x="254.0" y="115.55" width="2.4" height="1" fill="#1c1c6a" opacity="0.76"/>
<rect x="256.7" y="115.55" width="2.1" height="1" fill="#1c1c6a" opacity="0.72"/>
<rect x="260.7" y="115.55" width="1.7" height="1" fill="#1c1c6a" opacity="0.44"/>
<rect x="263.7" y="115.55" width="1.2" height="1" fill="#1c1c6a" opacity="0.33"/>
<rect x="267.5" y="115.55" width="1.3" height="1" fill="#1c1c6a" opacity="0.71"/>
<rect x="269.6" y="115.55" width="2.3" height="1" fill="#1c1c6a" opacity="0.65"/>
<rect x="274.4" y="115.55" width="2.3" height="1" fill="#1c1c6a" opacity="0.75"/>
<rect x="278.1" y="115.55" width="0.8" height="1" fill="#1c1c6a" opacity="0.67"/>
<rect x="280.6" y="115.55" width="1.3" height="1" fill="#1c1c6a" opacity="0.63"/>
<rect x="284.2" y="115.55" width="1.5" height="1" fill="#1c1c6a" opacity="0.77"/>
<rect x="288.0" y="115.55" width="1.4" height="1" fill="#1c1c6a" opacity="0.43"/>
<rect x="292.6" y="115.55" width="1.6" height="1" fill="#1c1c6a" opacity="0.69"/>
<rect x="295.7" y="115.55" width="1.1" height="1" fill="#1c1c6a" opacity="0.57"/>
<rect x="300.1" y="115.55" width="1.1" height="1" fill="#1c1c6a" opacity="0.70"/>
<rect x="304.9" y="115.55" width="2.2" height="1" fill="#1c1c6a" opacity="0.71"/>
<rect x="306.9" y="115.55" width="1.9" height="1" fill="#1c1c6a" opacity="0.73"/>
<rect x="309.0" y="115.55" width="1.3" height="1" fill="#1c1c6a" opacity="0.43"/>
<rect x="312.6" y="115.55" width="1.5" height="1" fill="#1c1c6a" opacity="0.54"/>
<rect x="317.0" y="115.55" width="0.8" height="1" fill="#1c1c6a" opacity="0.33"/>
<rect x="319.3" y="115.55" width="1.0" height="1" fill="#1c1c6a" opacity="0.33"/>
<rect x="324.3" y="115.55" width="2.3" height="1" fill="#1c1c6a" opacity="0.34"/>
<rect x="327.8" y="115.55" width="1.3" height="1" fill="#1c1c6a" opacity="0.46"/>
<rect x="330.8" y="115.55" width="1.9" height="1" fill="#1c1c6a" opacity="0.59"/>
<rect x="333.9" y="115.55" width="1.1" height="1" fill="#1c1c6a" opacity="0.46"/>
<rect x="336.3" y="115.55" width="1.7" height="1" fill="#1c1c6a" opacity="0.66"/>
<rect x="339.4" y="115.55" width="0.9" height="1" fill="#1c1c6a" opacity="0.39"/>
<rect x="342.5" y="115.55" width="1.8" height="1" fill="#1c1c6a" opacity="0.69"/>
<rect x="345.7" y="115.55" width="2.2" height="1" fill="#1c1c6a" opacity="0.61"/>
<rect x="349.0" y="115.55" width="1.4" height="1" fill="#1c1c6a" opacity="0.55"/>
<rect x="353.1" y="115.55" width="1.5" height="1" fill="#1c1c6a" opacity="0.65"/>
<rect x="356.5" y="115.55" width="1.2" height="1" fill="#1c1c6a" opacity="0.57"/>
<rect x="360.6" y="115.55" width="0.9" height="1" fill="#1c1c6a" opacity="0.51"/>
<rect x="363.8" y="115.55" width="2.3" height="1" fill="#1c1c6a" opacity="0.77"/>
<rect x="367.0" y="115.55" width="2.3" height="1" fill="#1c1c6a" opacity="0.70"/>
<rect x="369.7" y="115.55" width="1.6" height="1" fill="#1c1c6a" opacity="0.36"/>
<rect x="374.2" y="115.55" width="1.9" height="1" fill="#1c1c6a" opacity="0.74"/>
<rect x="378.6" y="115.55" width="1.9" height="1" fill="#1c1c6a" opacity="0.67"/>
<rect x="382.2" y="115.55" width="1.0" height="1" fill="#1c1c6a" opacity="0.59"/>
<rect x="384.3" y="115.55" width="1.0" height="1" fill="#1c1c6a" opacity="0.69"/>
<rect x="386.4" y="115.55" width="1.0" height="1" fill="#1c1c6a" opacity="0.35"/>
<rect x="391.0" y="115.55" width="1.1" height="1" fill="#1c1c6a" opacity="0.31"/>
<rect x="395.6" y="115.55" width="1.0" height="1" fill="#1c1c6a" opacity="0.72"/>
<rect x="399.6" y="115.55" width="2.2" height="1" fill="#1c1c6a" opacity="0.78"/>
<rect x="403.3" y="115.55" width="2.2" height="1" fill="#1c1c6a" opacity="0.32"/>
<rect x="407.6" y="115.55" width="1.7" height="1" fill="#1c1c6a" opacity="0.66"/>
<rect x="409.9" y="115.55" width="2.1" height="1" fill="#1c1c6a" opacity="0.77"/>
<rect x="412.1" y="115.55" width="1.4" height="1" fill="#1c1c6a" opacity="0.58"/>
<rect x="416.6" y="115.55" width="1.2" height="1" fill="#1c1c6a" opacity="0.39"/>
<rect x="419.4" y="115.55" width="1.8" height="1" fill="#1c1c6a" opacity="0.68"/>
<rect x="422.5" y="115.55" width="1.4" height="1" fill="#1c1c6a" opacity="0.50"/>
<rect x="425.6" y="115.55" width="1.5" height="1" fill="#1c1c6a" opacity="0.34"/>
<rect x="429.1" y="115.55" width="2.5" height="1" fill="#1c1c6a" opacity="0.51"/>
<rect x="433.3" y="115.55" width="1.1" height="1" fill="#1c1c6a" opacity="0.65"/>
<rect x="437.6" y="115.55" width="1.9" height="1" fill="#1c1c6a" opacity="0.56"/>
<rect x="441.1" y="115.55" width="1.9" height="1" fill="#1c1c6a" opacity="0.75"/>
<rect x="443.5" y="115.55" width="1.0" height="1" fill="#1c1c6a" opacity="0.67"/>
<rect x="448.3" y="115.55" width="1.7" height="1" fill="#1c1c6a" opacity="0.52"/>
<rect x="452.4" y="115.55" width="1.1" height="1" fill="#1c1c6a" opacity="0.43"/>
<rect x="455.0" y="115.55" width="1.8" height="1" fill="#1c1c6a" opacity="0.46"/>
<rect x="457.7" y="115.55" width="2.0" height="1" fill="#1c1c6a" opacity="0.78"/>
<rect x="460.6" y="115.55" width="2.0" height="1" fill="#1c1c6a" opacity="0.51"/>
<rect x="465.2" y="115.55" width="1.8" height="1" fill="#1c1c6a" opacity="0.43"/>
<rect x="467.8" y="115.55" width="0.8" height="1" fill="#1c1c6a" opacity="0.54"/>
<rect x="471.0" y="115.55" width="1.1" height="1" fill="#1c1c6a" opacity="0.48"/>
<rect x="473.9" y="115.55" width="2.1" height="1" fill="#1c1c6a" opacity="0.37"/>
<rect x="478.9" y="115.55" width="1.6" height="1" fill="#1c1c6a" opacity="0.60"/>
<rect x="482.3" y="115.55" width="2.2" height="1" fill="#1c1c6a" opacity="0.71"/>
<rect x="486.0" y="115.55" width="1.6" height="1" fill="#1c1c6a" opacity="0.66"/>
<rect x="490.5" y="115.55" width="1.5" height="1" fill="#1c1c6a" opacity="0.67"/>
<rect x="495.4" y="115.55" width="1.6" height="1" fill="#1c1c6a" opacity="0.41"/>
<rect x="498.1" y="115.55" width="2.0" height="1" fill="#1c1c6a" opacity="0.64"/>
<rect x="503.0" y="115.55" width="2.3" height="1" fill="#1c1c6a" opacity="0.42"/>
<rect x="505.6" y="115.55" width="1.2" height="1" fill="#1c1c6a" opacity="0.39"/>
<rect x="509.7" y="115.55" width="2.3" height="1" fill="#1c1c6a" opacity="0.75"/>
<rect x="512.4" y="115.55" width="2.3" height="1" fill="#1c1c6a" opacity="0.46"/>
<rect x="515.7" y="115.55" width="2.0" height="1" fill="#1c1c6a" opacity="0.34"/>
<rect x="518.0" y="115.55" width="2.2" height="1" fill="#1c1c6a" opacity="0.45"/>
<rect x="521.1" y="115.55" width="1.8" height="1" fill="#1c1c6a" opacity="0.64"/>
<rect x="523.1" y="115.55" width="1.4" height="1" fill="#1c1c6a" opacity="0.52"/>
<rect x="526.5" y="115.55" width="1.2" height="1" fill="#1c1c6a" opacity="0.59"/>
<rect x="531.4" y="115.55" width="1.5" height="1" fill="#1c1c6a" opacity="0.57"/>
<rect x="533.8" y="115.55" width="1.3" height="1" fill="#1c1c6a" opacity="0.63"/>
<rect x="536.1" y="115.55" width="2.3" height="1" fill="#1c1c6a" opacity="0.75"/>
<rect x="538.4" y="115.55" width="2.4" height="1" fill="#1c1c6a" opacity="0.49"/>
<rect x="542.7" y="115.55" width="2.1" height="1" fill="#1c1c6a" opacity="0.45"/>
<rect x="546.7" y="115.55" width="1.9" height="1" fill="#1c1c6a" opacity="0.70"/>
<rect x="549.5" y="115.55" width="2.1" height="1" fill="#1c1c6a" opacity="0.78"/>
<rect x="553.6" y="115.55" width="1.7" height="1" fill="#1c1c6a" opacity="0.36"/>
<rect x="557.0" y="115.55" width="1.4" height="1" fill="#1c1c6a" opacity="0.66"/>
<rect x="561.1" y="115.55" width="1.8" height="1" fill="#1c1c6a" opacity="0.39"/>
<rect x="565.0" y="115.55" width="1.9" height="1" fill="#1c1c6a" opacity="0.39"/>
<rect x="569.7" y="115.55" width="1.9" height="1" fill="#1c1c6a" opacity="0.36"/>
<rect x="574.5" y="115.55" width="1.0" height="1" fill="#1c1c6a" opacity="0.47"/>
<rect x="578.6" y="115.55" width="1.8" height="1" fill="#1c1c6a" opacity="0.58"/>
<rect x="582.6" y="115.55" width="1.6" height="1" fill="#1c1c6a" opacity="0.46"/>
<rect x="585.1" y="115.55" width="0.9" height="1" fill="#1c1c6a" opacity="0.66"/>
<rect x="589.4" y="115.55" width="1.7" height="1" fill="#1c1c6a" opacity="0.67"/>
<rect x="592.4" y="115.55" width="1.3" height="1" fill="#1c1c6a" opacity="0.49"/>
<rect x="597.1" y="115.55" width="0.9" height="1" fill="#1c1c6a" opacity="0.55"/>
<rect x="599.8" y="115.55" width="2.1" height="1" fill="#1c1c6a" opacity="0.48"/>
<rect x="602.8" y="115.55" width="1.5" height="1" fill="#1c1c6a" opacity="0.57"/>
<rect x="607.1" y="115.55" width="1.4" height="1" fill="#1c1c6a" opacity="0.72"/>
<rect x="609.5" y="115.55" width="1.3" height="1" fill="#1c1c6a" opacity="0.35"/>
<rect x="611.8" y="115.55" width="2.1" height="1" fill="#1c1c6a" opacity="0.66"/>
<rect x="614.3" y="115.55" width="1.1" height="1" fill="#1c1c6a" opacity="0.51"/>
<rect x="618.6" y="115.55" width="2.2" height="1" fill="#1c1c6a" opacity="0.67"/>
<rect x="622.4" y="115.55" width="1.0" height="1" fill="#1c1c6a" opacity="0.50"/>
<rect x="624.9" y="115.55" width="1.7" height="1" fill="#1c1c6a" opacity="0.58"/>
<rect x="627.5" y="115.55" width="1.2" height="1" fill="#1c1c6a" opacity="0.69"/>
<rect x="629.6" y="115.55" width="2.2" height="1" fill="#1c1c6a" opacity="0.75"/>
<rect x="634.5" y="115.55" width="1.5" height="1" fill="#1c1c6a" opacity="0.58"/>
<rect x="638.2" y="115.55" width="1.9" height="1" fill="#1c1c6a" opacity="0.79"/>
<rect x="642.3" y="115.55" width="1.3" height="1" fill="#1c1c6a" opacity="0.73"/>
<rect x="645.7" y="115.55" width="1.8" height="1" fill="#1c1c6a" opacity="0.66"/>
<rect x="647.7" y="115.55" width="2.1" height="1" fill="#1c1c6a" opacity="0.63"/>
<rect x="651.2" y="115.55" width="1.7" height="1" fill="#1c1c6a" opacity="0.53"/>
<rect x="653.8" y="115.55" width="1.7" height="1" fill="#1c1c6a" opacity="0.32"/>
<ellipse cx="112.20" cy="115.90" rx="1.3" ry="0.8" fill="#2a3aa0" opacity="0.85"/>
<ellipse cx="138.12" cy="115.90" rx="1.3" ry="0.8" fill="#2a3aa0" opacity="0.85"/>
<ellipse cx="161.69" cy="115.90" rx="1.3" ry="0.8" fill="#2a3aa0" opacity="0.85"/>
<ellipse cx="255.95" cy="115.90" rx="1.3" ry="0.8" fill="#2a3aa0" opacity="0.85"/>
<ellipse cx="365.27" cy="115.90" rx="1.3" ry="0.8" fill="#2a3aa0" opacity="0.85"/>
<ellipse cx="491.60" cy="115.90" rx="1.3" ry="0.8" fill="#2a3aa0" opacity="0.85"/>
<ellipse cx="585.86" cy="115.90" rx="1.3" ry="0.8" fill="#2a3aa0" opacity="0.85"/>
<ellipse cx="609.42" cy="115.90" rx="1.3" ry="0.8" fill="#2a3aa0" opacity="0.85"/>
<line x1="20.60" y1="115.70" x2="20.60" y2="119.70" stroke="#e4262a" stroke-width="0.9"/>
<rect x="11.30" y="119.40" width="19.90" height="9.9" rx="0.6" fill="#fff" stroke="#e4262a" stroke-width="1"/>
<text x="21.25" y="127.30" class="bx" text-anchor="middle">100.0</text>
<line x1="112.20" y1="115.70" x2="112.20" y2="119.70" stroke="#e4262a" stroke-width="0.9"/>
<rect x="103.40" y="119.40" width="19.40" height="9.9" rx="0.6" fill="#fff" stroke="#e4262a" stroke-width="1"/>
<text x="113.10" y="127.30" class="bx" text-anchor="middle">139.0</text>
<line x1="138.12" y1="115.70" x2="138.12" y2="119.70" stroke="#e4262a" stroke-width="0.9"/>
<rect x="128.90" y="119.40" width="18.90" height="9.9" rx="0.6" fill="#fff" stroke="#e4262a" stroke-width="1"/>
<text x="138.35" y="127.30" class="bx" text-anchor="middle">150.0</text>
<line x1="161.69" y1="115.70" x2="161.69" y2="119.70" stroke="#e4262a" stroke-width="0.9"/>
<rect x="153.30" y="119.40" width="19.20" height="9.9" rx="0.6" fill="#fff" stroke="#e4262a" stroke-width="1"/>
<text x="162.90" y="127.30" class="bx" text-anchor="middle">160.0</text>
<line x1="255.95" y1="115.70" x2="255.95" y2="119.70" stroke="#e4262a" stroke-width="0.9"/>
<rect x="247.30" y="119.40" width="19.20" height="9.9" rx="0.6" fill="#fff" stroke="#e4262a" stroke-width="1"/>
<text x="256.90" y="127.30" class="bx" text-anchor="middle">200.0</text>
<line x1="365.27" y1="115.70" x2="365.27" y2="119.70" stroke="#e4262a" stroke-width="0.9"/>
<rect x="354.40" y="119.40" width="22.30" height="9.9" rx="0.6" fill="#fff" stroke="#e4262a" stroke-width="1"/>
<text x="365.55" y="127.30" class="bx" text-anchor="middle">246.59</text>
<line x1="491.60" y1="115.70" x2="491.60" y2="119.70" stroke="#e4262a" stroke-width="0.9"/>
<rect x="482.40" y="119.40" width="18.90" height="9.9" rx="0.6" fill="#fff" stroke="#e4262a" stroke-width="1"/>
<text x="491.85" y="127.30" class="bx" text-anchor="middle">300.0</text>
<line x1="585.86" y1="115.70" x2="585.86" y2="119.70" stroke="#e4262a" stroke-width="0.9"/>
<rect x="576.80" y="119.40" width="19.40" height="9.9" rx="0.6" fill="#fff" stroke="#e4262a" stroke-width="1"/>
<text x="586.50" y="127.30" class="bx" text-anchor="middle">340.0</text>
<line x1="609.42" y1="115.70" x2="609.42" y2="119.70" stroke="#e4262a" stroke-width="0.9"/>
<rect x="600.00" y="119.40" width="19.30" height="9.9" rx="0.6" fill="#fff" stroke="#e4262a" stroke-width="1"/>
<text x="609.65" y="127.30" class="bx" text-anchor="middle">350.0</text>
<text x="56.55" y="92.80" class="lb">e3</text>
<text x="144.55" y="66.60" class="lb">e5</text>
<text x="166.55" y="32.60" class="lb">e2</text>
<text x="194.05" y="83.40" class="lb">e9</text>
<text x="222.05" y="83.60" class="lb">e6</text>
<text x="293.35" y="66.60" class="lb">e4</text>
<text x="325.55" y="66.20" class="lb it">F9</text>
<text x="352.05" y="66.60" class="lb">e1</text>
<text x="365.75" y="47.20" class="lb it">HFE</text>
<text x="392.05" y="66.60" class="lb">e10</text>
<text x="478.35" y="66.60" class="lb">e7</text>
<text x="510.35" y="66.60" class="lb">e8</text>
<line x1="335.00" y1="70.00" x2="339.30" y2="76.30" stroke="#111" stroke-width="1.1"/>
<line x1="395.80" y1="70.00" x2="391.30" y2="76.30" stroke="#111" stroke-width="1.1"/>
<line x1="485.70" y1="70.20" x2="490.20" y2="76.30" stroke="#111" stroke-width="1.1"/>
<line x1="514.00" y1="70.20" x2="510.00" y2="76.30" stroke="#111" stroke-width="1.1"/>
<text x="1.30" y="10.60" class="pl">a</text>
<line x1="20" y1="155.30" x2="657" y2="155.30" stroke="#222" stroke-width="1"/>
<line x1="20.5" y1="154.80" x2="20.5" y2="254.10" stroke="#222" stroke-width="1.1"/>
<line x1="656.5" y1="154.80" x2="656.5" y2="254.10" stroke="#222" stroke-width="1"/>
<line x1="43.87" y1="153.50" x2="43.87" y2="157.10" stroke="#222" stroke-width="1"/>
<line x1="67.43" y1="153.50" x2="67.43" y2="157.10" stroke="#222" stroke-width="1"/>
<line x1="91.00" y1="153.50" x2="91.00" y2="157.10" stroke="#222" stroke-width="1"/>
<line x1="114.56" y1="153.50" x2="114.56" y2="157.10" stroke="#222" stroke-width="1"/>
<line x1="138.12" y1="153.50" x2="138.12" y2="157.10" stroke="#222" stroke-width="1"/>
<line x1="161.69" y1="153.50" x2="161.69" y2="157.10" stroke="#222" stroke-width="1"/>
<line x1="185.26" y1="153.50" x2="185.26" y2="157.10" stroke="#222" stroke-width="1"/>
<line x1="208.82" y1="153.50" x2="208.82" y2="157.10" stroke="#222" stroke-width="1"/>
<line x1="232.39" y1="153.50" x2="232.39" y2="157.10" stroke="#222" stroke-width="1"/>
<line x1="255.95" y1="153.50" x2="255.95" y2="157.10" stroke="#222" stroke-width="1"/>
<line x1="279.52" y1="153.50" x2="279.52" y2="157.10" stroke="#222" stroke-width="1"/>
<line x1="303.08" y1="153.50" x2="303.08" y2="157.10" stroke="#222" stroke-width="1"/>
<line x1="326.65" y1="153.50" x2="326.65" y2="157.10" stroke="#222" stroke-width="1"/>
<line x1="350.21" y1="153.50" x2="350.21" y2="157.10" stroke="#222" stroke-width="1"/>
<line x1="373.78" y1="153.50" x2="373.78" y2="157.10" stroke="#222" stroke-width="1"/>
<line x1="397.34" y1="153.50" x2="397.34" y2="157.10" stroke="#222" stroke-width="1"/>
<line x1="420.91" y1="153.50" x2="420.91" y2="157.10" stroke="#222" stroke-width="1"/>
<line x1="444.47" y1="153.50" x2="444.47" y2="157.10" stroke="#222" stroke-width="1"/>
<line x1="468.04" y1="153.50" x2="468.04" y2="157.10" stroke="#222" stroke-width="1"/>
<line x1="491.60" y1="153.50" x2="491.60" y2="157.10" stroke="#222" stroke-width="1"/>
<line x1="515.16" y1="153.50" x2="515.16" y2="157.10" stroke="#222" stroke-width="1"/>
<line x1="538.73" y1="153.50" x2="538.73" y2="157.10" stroke="#222" stroke-width="1"/>
<line x1="562.29" y1="153.50" x2="562.29" y2="157.10" stroke="#222" stroke-width="1"/>
<line x1="585.86" y1="153.50" x2="585.86" y2="157.10" stroke="#222" stroke-width="1"/>
<line x1="609.42" y1="153.50" x2="609.42" y2="157.10" stroke="#222" stroke-width="1"/>
<line x1="632.99" y1="153.50" x2="632.99" y2="157.10" stroke="#222" stroke-width="1"/>
<line x1="656.55" y1="153.50" x2="656.55" y2="157.10" stroke="#222" stroke-width="1"/>
<text x="20.30" y="150.30" class="ax" text-anchor="middle">100</text>
<text x="67.43" y="150.30" class="ax" text-anchor="middle">120</text>
<text x="114.56" y="150.30" class="ax" text-anchor="middle">140</text>
<text x="161.69" y="150.30" class="ax" text-anchor="middle">160</text>
<text x="208.82" y="150.30" class="ax" text-anchor="middle">180</text>
<text x="255.95" y="150.30" class="ax" text-anchor="middle">200</text>
<text x="303.08" y="150.30" class="ax" text-anchor="middle">220</text>
<text x="350.21" y="150.30" class="ax" text-anchor="middle">240</text>
<text x="397.34" y="150.30" class="ax" text-anchor="middle">260</text>
<text x="444.47" y="150.30" class="ax" text-anchor="middle">280</text>
<text x="491.60" y="150.30" class="ax" text-anchor="middle">300</text>
<text x="538.73" y="150.30" class="ax" text-anchor="middle">320</text>
<text x="585.86" y="150.30" class="ax" text-anchor="middle">340</text>
<text x="632.99" y="150.30" class="ax" text-anchor="middle">360</text>
<line x1="18.6" y1="244.02" x2="21.6" y2="244.02" stroke="#222" stroke-width="1"/>
<line x1="18.6" y1="233.94" x2="21.6" y2="233.94" stroke="#222" stroke-width="1"/>
<line x1="18.6" y1="223.86" x2="21.6" y2="223.86" stroke="#222" stroke-width="1"/>
<line x1="18.6" y1="213.78" x2="21.6" y2="213.78" stroke="#222" stroke-width="1"/>
<line x1="18.6" y1="203.70" x2="21.6" y2="203.70" stroke="#222" stroke-width="1"/>
<line x1="18.6" y1="193.62" x2="21.6" y2="193.62" stroke="#222" stroke-width="1"/>
<line x1="18.6" y1="183.54" x2="21.6" y2="183.54" stroke="#222" stroke-width="1"/>
<line x1="18.6" y1="173.46" x2="21.6" y2="173.46" stroke="#222" stroke-width="1"/>
<line x1="18.6" y1="163.38" x2="21.6" y2="163.38" stroke="#222" stroke-width="1"/>
<text x="17.4" y="256.40" class="ay" text-anchor="end">0</text>
<text x="17.4" y="236.24" class="ay" text-anchor="end">200</text>
<text x="17.4" y="216.08" class="ay" text-anchor="end">400</text>
<text x="17.4" y="195.92" class="ay" text-anchor="end">600</text>
<text x="17.4" y="175.76" class="ay" text-anchor="end">800</text>
<path d="M55.25,254.10 L54.90,254.09 L55.00,254.08 L55.10,254.08 L55.20,254.07 L55.30,254.06 L55.40,254.06 L55.50,254.05 L55.60,254.03 L55.70,254.02 L55.80,254.00 L55.90,253.98 L56.00,253.96 L56.10,253.93 L56.20,253.90 L56.30,253.86 L56.40,253.81 L56.50,253.75 L56.60,253.69 L56.70,253.62 L56.80,253.53 L56.90,253.43 L57.00,253.30 L57.10,253.16 L57.20,252.98 L57.30,252.76 L57.40,252.49 L57.50,252.16 L57.60,251.74 L57.70,251.24 L57.80,250.63 L57.90,249.90 L58.00,249.06 L58.10,248.11 L58.20,247.08 L58.30,245.99 L58.40,244.89 L58.50,243.83 L58.60,242.86 L58.70,242.01 L58.80,241.32 L58.90,240.78 L59.00,240.41 L59.10,240.16 L59.20,240.00 L59.30,239.89 L59.40,239.76 L59.50,239.58 L59.60,239.31 L59.70,238.92 L59.80,238.37 L59.90,237.65 L60.00,236.75 L60.10,235.66 L60.20,234.35 L60.30,232.84 L60.40,231.11 L60.50,229.18 L60.60,227.08 L60.70,224.87 L60.80,222.62 L60.90,220.43 L61.00,218.42 L61.10,216.69 L61.20,215.37 L61.30,214.54 L61.75,214.25 L62.20,214.54 L62.30,215.37 L62.40,216.70 L62.50,218.42 L62.60,220.44 L62.70,222.63 L62.80,224.88 L62.90,227.11 L63.00,229.23 L63.10,231.19 L63.20,232.98 L63.30,234.59 L63.40,236.02 L63.50,237.31 L63.60,238.46 L63.70,239.51 L63.80,240.48 L63.90,241.39 L64.00,242.24 L64.10,243.06 L64.20,243.84 L64.30,244.59 L64.40,245.31 L64.50,246.00 L64.60,246.66 L64.70,247.29 L64.80,247.89 L64.90,248.45 L65.00,248.98 L65.10,249.48 L65.20,249.94 L65.30,250.37 L65.40,250.77 L65.50,251.13 L65.60,251.47 L65.70,251.77 L65.80,252.05 L65.90,252.30 L66.00,252.52 L66.10,252.72 L66.20,252.90 L66.30,253.06 L66.40,253.21 L66.50,253.33 L66.60,253.44 L66.70,253.54 L66.80,253.62 L66.90,253.69 L67.00,253.76 L67.10,253.81 L67.20,253.86 L67.30,253.90 L67.40,253.93 L67.50,253.96 L67.60,253.98 L67.70,254.00 L67.80,254.02 L67.90,254.03 L68.00,254.05 L68.10,254.06 L67.75,254.10 Z" fill="#2b39b2"/>
<path d="M94.75,254.10 L94.40,254.09 L94.50,254.08 L94.60,254.08 L94.70,254.07 L94.80,254.06 L94.90,254.06 L95.00,254.05 L95.10,254.03 L95.20,254.02 L95.30,254.00 L95.40,253.98 L95.50,253.96 L95.60,253.93 L95.70,253.89 L95.80,253.85 L95.90,253.81 L96.00,253.75 L96.10,253.69 L96.20,253.61 L96.30,253.52 L96.40,253.42 L96.50,253.29 L96.60,253.14 L96.70,252.96 L96.80,252.74 L96.90,252.47 L97.00,252.13 L97.10,251.72 L97.20,251.20 L97.30,250.58 L97.40,249.85 L97.50,249.00 L97.60,248.03 L97.70,246.99 L97.80,245.89 L97.90,244.78 L98.00,243.70 L98.10,242.72 L98.20,241.86 L98.30,241.16 L98.40,240.62 L98.50,240.24 L98.60,239.99 L98.70,239.83 L98.80,239.71 L98.90,239.58 L99.00,239.40 L99.10,239.13 L99.20,238.72 L99.30,238.17 L99.40,237.45 L99.50,236.54 L99.60,235.43 L99.70,234.11 L99.80,232.57 L99.90,230.82 L100.00,228.86 L100.10,226.74 L100.20,224.50 L100.30,222.23 L100.40,220.01 L100.50,217.97 L100.60,216.23 L100.70,214.88 L100.80,214.04 L101.25,213.75 L101.70,214.04 L101.80,214.88 L101.90,216.23 L102.00,217.97 L102.10,220.02 L102.20,222.23 L102.30,224.52 L102.40,226.77 L102.50,228.91 L102.60,230.91 L102.70,232.72 L102.80,234.34 L102.90,235.80 L103.00,237.10 L103.10,238.27 L103.20,239.33 L103.30,240.31 L103.40,241.23 L103.50,242.10 L103.60,242.92 L103.70,243.71 L103.80,244.47 L103.90,245.20 L104.00,245.90 L104.10,246.57 L104.20,247.21 L104.30,247.81 L104.40,248.38 L104.50,248.92 L104.60,249.42 L104.70,249.89 L104.80,250.33 L104.90,250.73 L105.00,251.10 L105.10,251.43 L105.20,251.74 L105.30,252.02 L105.40,252.28 L105.50,252.50 L105.60,252.71 L105.70,252.89 L105.80,253.05 L105.90,253.19 L106.00,253.32 L106.10,253.43 L106.20,253.53 L106.30,253.61 L106.40,253.69 L106.50,253.75 L106.60,253.81 L106.70,253.85 L106.80,253.89 L106.90,253.93 L107.00,253.96 L107.10,253.98 L107.20,254.00 L107.30,254.02 L107.40,254.03 L107.50,254.05 L107.60,254.06 L107.25,254.10 Z" fill="#2b39b2"/>
<path d="M147.75,254.10 L147.40,254.10 L147.50,254.10 L147.60,254.10 L147.70,254.10 L147.80,254.10 L147.90,254.09 L148.00,254.09 L148.10,254.09 L148.20,254.09 L148.30,254.09 L148.40,254.08 L148.50,254.08 L148.60,254.07 L148.70,254.07 L148.80,254.06 L148.90,254.05 L149.00,254.04 L149.10,254.02 L149.20,254.01 L149.30,253.98 L149.40,253.95 L149.50,253.92 L149.60,253.86 L149.70,253.79 L149.80,253.69 L149.90,253.56 L150.00,253.36 L150.10,253.10 L150.20,252.74 L150.30,252.27 L150.40,251.66 L150.50,250.91 L150.60,250.02 L150.70,249.00 L150.80,247.89 L150.90,246.73 L151.00,245.59 L151.10,244.54 L151.20,243.65 L151.30,242.99 L151.40,242.59 L151.50,242.47 L151.60,242.62 L151.70,242.99 L151.80,243.52 L151.90,244.14 L152.00,244.77 L152.10,245.34 L152.20,245.80 L152.30,246.10 L152.40,246.22 L152.50,246.13 L152.60,245.84 L152.70,245.35 L152.80,244.65 L152.90,243.78 L153.00,242.74 L153.10,241.56 L153.20,240.29 L153.30,238.98 L153.40,237.69 L153.50,236.49 L153.60,235.46 L153.70,234.67 L153.80,234.17 L154.25,234.00 L154.70,234.17 L154.80,234.67 L154.90,235.47 L155.00,236.50 L155.10,237.70 L155.20,239.00 L155.30,240.33 L155.40,241.64 L155.50,242.87 L155.60,244.00 L155.70,245.01 L155.80,245.90 L155.90,246.68 L156.00,247.36 L156.10,247.95 L156.20,248.48 L156.30,248.94 L156.40,249.37 L156.50,249.76 L156.60,250.12 L156.70,250.46 L156.80,250.78 L156.90,251.08 L157.00,251.37 L157.10,251.63 L157.20,251.88 L157.30,252.12 L157.40,252.33 L157.50,252.53 L157.60,252.71 L157.70,252.88 L157.80,253.03 L157.90,253.16 L158.00,253.28 L158.10,253.39 L158.20,253.49 L158.30,253.58 L158.40,253.65 L158.50,253.72 L158.60,253.78 L158.70,253.83 L158.80,253.87 L158.90,253.91 L159.00,253.94 L159.10,253.97 L159.20,253.99 L159.30,254.01 L159.40,254.03 L159.50,254.04 L159.60,254.05 L159.70,254.06 L159.80,254.07 L159.90,254.07 L160.00,254.08 L160.10,254.08 L160.20,254.09 L160.30,254.09 L160.40,254.09 L160.50,254.09 L160.60,254.09 L160.25,254.10 Z" fill="#2b39b2"/>
<path d="M186.00,254.10 L185.65,254.07 L185.75,254.06 L185.85,254.06 L185.95,254.05 L186.05,254.03 L186.15,254.02 L186.25,254.00 L186.35,253.98 L186.45,253.96 L186.55,253.93 L186.65,253.90 L186.75,253.86 L186.85,253.82 L186.95,253.77 L187.05,253.71 L187.15,253.64 L187.25,253.57 L187.35,253.48 L187.45,253.37 L187.55,253.26 L187.65,253.12 L187.75,252.96 L187.85,252.77 L187.95,252.55 L188.05,252.28 L188.15,251.96 L188.25,251.57 L188.35,251.09 L188.45,250.51 L188.55,249.82 L188.65,249.01 L188.75,248.07 L188.85,247.01 L188.95,245.87 L189.05,244.68 L189.15,243.47 L189.25,242.31 L189.35,241.24 L189.45,240.32 L189.55,239.56 L189.65,238.99 L189.75,238.58 L189.85,238.32 L189.95,238.16 L190.05,238.05 L190.15,237.94 L190.25,237.78 L190.35,237.52 L190.45,237.13 L190.55,236.58 L190.65,235.86 L190.75,234.94 L190.85,233.81 L190.95,232.46 L191.05,230.88 L191.15,229.07 L191.25,227.05 L191.35,224.84 L191.45,222.51 L191.55,220.13 L191.65,217.81 L191.75,215.68 L191.85,213.85 L191.95,212.44 L192.05,211.55 L192.50,211.25 L192.95,211.55 L193.05,212.44 L193.15,213.85 L193.25,215.68 L193.35,217.82 L193.45,220.14 L193.55,222.52 L193.65,224.87 L193.75,227.10 L193.85,229.16 L193.95,231.04 L194.05,232.71 L194.15,234.21 L194.25,235.54 L194.35,236.73 L194.45,237.81 L194.55,238.82 L194.65,239.75 L194.75,240.64 L194.85,241.49 L194.95,242.31 L195.05,243.10 L195.15,243.86 L195.25,244.60 L195.35,245.31 L195.45,245.99 L195.55,246.64 L195.65,247.26 L195.75,247.85 L195.85,248.40 L195.95,248.93 L196.05,249.42 L196.15,249.87 L196.25,250.30 L196.35,250.69 L196.45,251.05 L196.55,251.38 L196.65,251.69 L196.75,251.96 L196.85,252.21 L196.95,252.44 L197.05,252.64 L197.15,252.83 L197.25,252.99 L197.35,253.14 L197.45,253.26 L197.55,253.38 L197.65,253.48 L197.75,253.57 L197.85,253.64 L197.95,253.71 L198.05,253.77 L198.15,253.82 L198.25,253.86 L198.35,253.90 L198.45,253.93 L198.55,253.96 L198.65,253.98 L198.75,254.00 L198.85,254.02 L198.50,254.10 Z" fill="#2b39b2"/>
<path d="M209.00,254.10 L208.65,254.10 L208.75,254.10 L208.85,254.10 L208.95,254.09 L209.05,254.09 L209.15,254.09 L209.25,254.09 L209.35,254.09 L209.45,254.08 L209.55,254.08 L209.65,254.07 L209.75,254.06 L209.85,254.05 L209.95,254.04 L210.05,254.03 L210.15,254.01 L210.25,253.99 L210.35,253.96 L210.45,253.93 L210.55,253.89 L210.65,253.84 L210.75,253.78 L210.85,253.71 L210.95,253.60 L211.05,253.47 L211.15,253.30 L211.25,253.08 L211.35,252.79 L211.45,252.42 L211.55,251.95 L211.65,251.39 L211.75,250.73 L211.85,249.98 L211.95,249.15 L212.05,248.28 L212.15,247.40 L212.25,246.56 L212.35,245.80 L212.45,245.15 L212.55,244.64 L212.65,244.28 L212.75,244.06 L212.85,243.95 L212.95,243.92 L213.05,243.92 L213.15,243.90 L213.25,243.82 L213.35,243.65 L213.45,243.35 L213.55,242.88 L213.65,242.24 L213.75,241.40 L213.85,240.35 L213.95,239.06 L214.05,237.53 L214.15,235.75 L214.25,233.74 L214.35,231.54 L214.45,229.19 L214.55,226.79 L214.65,224.44 L214.75,222.27 L214.85,220.40 L214.95,218.97 L215.05,218.06 L215.50,217.75 L215.95,218.06 L216.05,218.97 L216.15,220.40 L216.25,222.27 L216.35,224.44 L216.45,226.80 L216.55,229.21 L216.65,231.56 L216.75,233.79 L216.85,235.83 L216.95,237.66 L217.05,239.27 L217.15,240.68 L217.25,241.91 L217.35,242.98 L217.45,243.93 L217.55,244.77 L217.65,245.54 L217.75,246.25 L217.85,246.91 L217.95,247.52 L218.05,248.10 L218.15,248.65 L218.25,249.16 L218.35,249.64 L218.45,250.09 L218.55,250.51 L218.65,250.90 L218.75,251.26 L218.85,251.59 L218.95,251.89 L219.05,252.16 L219.15,252.40 L219.25,252.62 L219.35,252.82 L219.45,253.00 L219.55,253.15 L219.65,253.29 L219.75,253.41 L219.85,253.51 L219.95,253.61 L220.05,253.68 L220.15,253.75 L220.25,253.81 L220.35,253.86 L220.45,253.90 L220.55,253.94 L220.65,253.96 L220.75,253.99 L220.85,254.01 L220.95,254.03 L221.05,254.04 L221.15,254.05 L221.25,254.06 L221.35,254.07 L221.45,254.08 L221.55,254.08 L221.65,254.09 L221.75,254.09 L221.85,254.09 L221.50,254.10 Z" fill="#2b39b2"/>
<path d="M232.25,254.10 L231.90,254.10 L232.00,254.10 L232.10,254.10 L232.20,254.09 L232.30,254.09 L232.40,254.09 L232.50,254.09 L232.60,254.08 L232.70,254.08 L232.80,254.08 L232.90,254.07 L233.00,254.06 L233.10,254.05 L233.20,254.04 L233.30,254.03 L233.40,254.01 L233.50,253.99 L233.60,253.96 L233.70,253.93 L233.80,253.89 L233.90,253.84 L234.00,253.78 L234.10,253.70 L234.20,253.60 L234.30,253.46 L234.40,253.29 L234.50,253.06 L234.60,252.77 L234.70,252.39 L234.80,251.92 L234.90,251.36 L235.00,250.69 L235.10,249.92 L235.20,249.08 L235.30,248.20 L235.40,247.31 L235.50,246.46 L235.60,245.68 L235.70,245.03 L235.80,244.51 L235.90,244.14 L236.00,243.92 L236.10,243.81 L236.20,243.78 L236.30,243.78 L236.40,243.76 L236.50,243.68 L236.60,243.51 L236.70,243.20 L236.80,242.73 L236.90,242.08 L237.00,241.23 L237.10,240.16 L237.20,238.85 L237.30,237.30 L237.40,235.50 L237.50,233.46 L237.60,231.23 L237.70,228.85 L237.80,226.41 L237.90,224.03 L238.00,221.83 L238.10,219.94 L238.20,218.48 L238.30,217.56 L238.75,217.25 L239.20,217.56 L239.30,218.48 L239.40,219.94 L239.50,221.83 L239.60,224.04 L239.70,226.42 L239.80,228.86 L239.90,231.25 L240.00,233.51 L240.10,235.58 L240.20,237.43 L240.30,239.07 L240.40,240.50 L240.50,241.74 L240.60,242.83 L240.70,243.79 L240.80,244.65 L240.90,245.43 L241.00,246.14 L241.10,246.81 L241.20,247.43 L241.30,248.02 L241.40,248.57 L241.50,249.09 L241.60,249.58 L241.70,250.04 L241.80,250.46 L241.90,250.86 L242.00,251.22 L242.10,251.55 L242.20,251.86 L242.30,252.13 L242.40,252.38 L242.50,252.60 L242.60,252.80 L242.70,252.98 L242.80,253.14 L242.90,253.28 L243.00,253.40 L243.10,253.51 L243.20,253.60 L243.30,253.68 L243.40,253.75 L243.50,253.81 L243.60,253.85 L243.70,253.90 L243.80,253.93 L243.90,253.96 L244.00,253.99 L244.10,254.01 L244.20,254.03 L244.30,254.04 L244.40,254.05 L244.50,254.06 L244.60,254.07 L244.70,254.08 L244.80,254.08 L244.90,254.08 L245.00,254.09 L245.10,254.09 L244.75,254.10 Z" fill="#2b39b2"/>
<path d="M296.75,254.10 L296.40,254.10 L296.50,254.10 L296.60,254.10 L296.70,254.10 L296.80,254.09 L296.90,254.09 L297.00,254.09 L297.10,254.09 L297.20,254.08 L297.30,254.08 L297.40,254.08 L297.50,254.07 L297.60,254.06 L297.70,254.05 L297.80,254.04 L297.90,254.03 L298.00,254.01 L298.10,253.99 L298.20,253.97 L298.30,253.93 L298.40,253.90 L298.50,253.85 L298.60,253.78 L298.70,253.70 L298.80,253.60 L298.90,253.46 L299.00,253.28 L299.10,253.05 L299.20,252.75 L299.30,252.38 L299.40,251.93 L299.50,251.40 L299.60,250.80 L299.70,250.14 L299.80,249.44 L299.90,248.74 L300.00,248.06 L300.10,247.45 L300.20,246.93 L300.30,246.53 L300.40,246.24 L300.50,246.06 L300.60,245.97 L300.70,245.95 L300.80,245.95 L300.90,245.93 L301.00,245.87 L301.10,245.73 L301.20,245.49 L301.30,245.12 L301.40,244.61 L301.50,243.94 L301.60,243.09 L301.70,242.06 L301.80,240.83 L301.90,239.41 L302.00,237.80 L302.10,236.04 L302.20,234.16 L302.30,232.24 L302.40,230.36 L302.50,228.62 L302.60,227.12 L302.70,225.97 L302.80,225.25 L303.25,225.00 L303.70,225.25 L303.80,225.97 L303.90,227.12 L304.00,228.62 L304.10,230.36 L304.20,232.24 L304.30,234.17 L304.40,236.06 L304.50,237.84 L304.60,239.47 L304.70,240.94 L304.80,242.23 L304.90,243.36 L305.00,244.34 L305.10,245.20 L305.20,245.96 L305.30,246.63 L305.40,247.25 L305.50,247.82 L305.60,248.34 L305.70,248.83 L305.80,249.30 L305.90,249.73 L306.00,250.15 L306.10,250.53 L306.20,250.89 L306.30,251.23 L306.40,251.54 L306.50,251.82 L306.60,252.09 L306.70,252.33 L306.80,252.55 L306.90,252.74 L307.00,252.92 L307.10,253.08 L307.20,253.22 L307.30,253.34 L307.40,253.45 L307.50,253.55 L307.60,253.63 L307.70,253.70 L307.80,253.77 L307.90,253.82 L308.00,253.87 L308.10,253.91 L308.20,253.94 L308.30,253.97 L308.40,253.99 L308.50,254.01 L308.60,254.03 L308.70,254.04 L308.80,254.05 L308.90,254.06 L309.00,254.07 L309.10,254.08 L309.20,254.08 L309.30,254.08 L309.40,254.09 L309.50,254.09 L309.60,254.09 L309.25,254.10 Z" fill="#2b39b2"/>
<path d="M333.00,254.10 L332.65,254.10 L332.75,254.10 L332.85,254.10 L332.95,254.10 L333.05,254.10 L333.15,254.09 L333.25,254.09 L333.35,254.09 L333.45,254.09 L333.55,254.08 L333.65,254.08 L333.75,254.07 L333.85,254.07 L333.95,254.06 L334.05,254.05 L334.15,254.04 L334.25,254.02 L334.35,254.01 L334.45,253.99 L334.55,253.96 L334.65,253.93 L334.75,253.89 L334.85,253.83 L334.95,253.76 L335.05,253.68 L335.15,253.56 L335.25,253.41 L335.35,253.21 L335.45,252.96 L335.55,252.65 L335.65,252.27 L335.75,251.82 L335.85,251.31 L335.95,250.75 L336.05,250.16 L336.15,249.57 L336.25,249.00 L336.35,248.48 L336.45,248.04 L336.55,247.70 L336.65,247.45 L336.75,247.30 L336.85,247.23 L336.95,247.21 L337.05,247.21 L337.15,247.20 L337.25,247.15 L337.35,247.03 L337.45,246.82 L337.55,246.51 L337.65,246.08 L337.75,245.51 L337.85,244.79 L337.95,243.92 L338.05,242.88 L338.15,241.68 L338.25,240.32 L338.35,238.83 L338.45,237.24 L338.55,235.62 L338.65,234.03 L338.75,232.56 L338.85,231.29 L338.95,230.32 L339.05,229.71 L339.50,229.50 L339.95,229.71 L340.05,230.32 L340.15,231.30 L340.25,232.56 L340.35,234.03 L340.45,235.62 L340.55,237.25 L340.65,238.85 L340.75,240.35 L340.85,241.74 L340.95,242.97 L341.05,244.07 L341.15,245.02 L341.25,245.85 L341.35,246.57 L341.45,247.22 L341.55,247.79 L341.65,248.31 L341.75,248.79 L341.85,249.23 L341.95,249.65 L342.05,250.04 L342.15,250.41 L342.25,250.76 L342.35,251.08 L342.45,251.39 L342.55,251.67 L342.65,251.93 L342.75,252.18 L342.85,252.40 L342.95,252.60 L343.05,252.79 L343.15,252.95 L343.25,253.10 L343.35,253.24 L343.45,253.35 L343.55,253.46 L343.65,253.55 L343.75,253.63 L343.85,253.70 L343.95,253.77 L344.05,253.82 L344.15,253.86 L344.25,253.90 L344.35,253.94 L344.45,253.96 L344.55,253.99 L344.65,254.01 L344.75,254.03 L344.85,254.04 L344.95,254.05 L345.05,254.06 L345.15,254.07 L345.25,254.07 L345.35,254.08 L345.45,254.08 L345.55,254.09 L345.65,254.09 L345.75,254.09 L345.85,254.09 L345.50,254.10 Z" fill="#2b39b2"/>
<path d="M346.40,254.10 L346.05,254.10 L346.15,254.10 L346.25,254.10 L346.35,254.10 L346.45,254.09 L346.55,254.09 L346.65,254.09 L346.75,254.09 L346.85,254.08 L346.95,254.08 L347.05,254.07 L347.15,254.07 L347.25,254.06 L347.35,254.05 L347.45,254.04 L347.55,254.02 L347.65,254.01 L347.75,253.99 L347.85,253.96 L347.95,253.93 L348.05,253.89 L348.15,253.84 L348.25,253.77 L348.35,253.69 L348.45,253.58 L348.55,253.43 L348.65,253.25 L348.75,253.00 L348.85,252.69 L348.95,252.31 L349.05,251.84 L349.15,251.29 L349.25,250.66 L349.35,249.97 L349.45,249.24 L349.55,248.51 L349.65,247.80 L349.75,247.17 L349.85,246.63 L349.95,246.20 L350.05,245.90 L350.15,245.71 L350.25,245.62 L350.35,245.60 L350.45,245.60 L350.55,245.58 L350.65,245.52 L350.75,245.38 L350.85,245.12 L350.95,244.73 L351.05,244.20 L351.15,243.50 L351.25,242.62 L351.35,241.54 L351.45,240.26 L351.55,238.78 L351.65,237.10 L351.75,235.26 L351.85,233.30 L351.95,231.30 L352.05,229.34 L352.15,227.52 L352.25,225.96 L352.35,224.76 L352.45,224.01 L352.90,223.75 L353.35,224.01 L353.45,224.77 L353.55,225.96 L353.65,227.52 L353.75,229.34 L353.85,231.30 L353.95,233.31 L354.05,235.28 L354.15,237.14 L354.25,238.85 L354.35,240.37 L354.45,241.72 L354.55,242.90 L354.65,243.92 L354.75,244.82 L354.85,245.61 L354.95,246.31 L355.05,246.96 L355.15,247.55 L355.25,248.09 L355.35,248.61 L355.45,249.09 L355.55,249.55 L355.65,249.98 L355.75,250.38 L355.85,250.75 L355.95,251.10 L356.05,251.43 L356.15,251.73 L356.25,252.00 L356.35,252.25 L356.45,252.48 L356.55,252.68 L356.65,252.87 L356.75,253.03 L356.85,253.18 L356.95,253.31 L357.05,253.42 L357.15,253.52 L357.25,253.61 L357.35,253.69 L357.45,253.75 L357.55,253.81 L357.65,253.86 L357.75,253.90 L357.85,253.93 L357.95,253.96 L358.05,253.99 L358.15,254.01 L358.25,254.02 L358.35,254.04 L358.45,254.05 L358.55,254.06 L358.65,254.07 L358.75,254.07 L358.85,254.08 L358.95,254.08 L359.05,254.09 L359.15,254.09 L359.25,254.09 L358.90,254.10 Z" fill="#2b39b2"/>
<path d="M372.75,254.10 L372.40,253.98 L372.50,253.96 L372.60,253.93 L372.70,253.89 L372.80,253.86 L372.90,253.81 L373.00,253.76 L373.10,253.70 L373.20,253.63 L373.30,253.55 L373.40,253.46 L373.50,253.36 L373.60,253.24 L373.70,253.10 L373.80,252.95 L373.90,252.78 L374.00,252.58 L374.10,252.36 L374.20,252.12 L374.30,251.84 L374.40,251.52 L374.50,251.16 L374.60,250.75 L374.70,250.27 L374.80,249.72 L374.90,249.06 L375.00,248.27 L375.10,247.34 L375.20,246.22 L375.30,244.90 L375.40,243.37 L375.50,241.61 L375.60,239.67 L375.70,237.56 L375.80,235.37 L375.90,233.17 L376.00,231.05 L376.10,229.12 L376.20,227.45 L376.30,226.09 L376.40,225.07 L376.50,224.36 L376.60,223.93 L376.70,223.69 L376.80,223.55 L376.90,223.42 L377.00,223.21 L377.10,222.83 L377.20,222.23 L377.30,221.36 L377.40,220.18 L377.50,218.66 L377.60,216.76 L377.70,214.47 L377.80,211.77 L377.90,208.66 L378.00,205.15 L378.10,201.32 L378.20,197.25 L378.30,193.10 L378.40,189.04 L378.50,185.29 L378.60,182.07 L378.70,179.59 L378.80,178.03 L379.25,177.50 L379.70,178.03 L379.80,179.60 L379.90,182.07 L380.00,185.29 L380.10,189.05 L380.20,193.11 L380.30,197.28 L380.40,201.37 L380.50,205.25 L380.60,208.82 L380.70,212.05 L380.80,214.92 L380.90,217.47 L381.00,219.72 L381.10,221.74 L381.20,223.56 L381.30,225.24 L381.40,226.82 L381.50,228.32 L381.60,229.76 L381.70,231.15 L381.80,232.51 L381.90,233.83 L382.00,235.12 L382.10,236.37 L382.20,237.58 L382.30,238.75 L382.40,239.88 L382.50,240.96 L382.60,241.99 L382.70,242.97 L382.80,243.90 L382.90,244.78 L383.00,245.60 L383.10,246.38 L383.20,247.10 L383.30,247.77 L383.40,248.40 L383.50,248.98 L383.60,249.51 L383.70,249.99 L383.80,250.44 L383.90,250.85 L384.00,251.22 L384.10,251.55 L384.20,251.85 L384.30,252.12 L384.40,252.37 L384.50,252.59 L384.60,252.78 L384.70,252.95 L384.80,253.10 L384.90,253.24 L385.00,253.36 L385.10,253.46 L385.20,253.55 L385.30,253.63 L385.40,253.70 L385.50,253.76 L385.60,253.81 L385.25,254.10 Z" fill="#2b39b2"/>
<path d="M503.00,254.10 L502.65,254.08 L502.75,254.07 L502.85,254.06 L502.95,254.06 L503.05,254.05 L503.15,254.04 L503.25,254.02 L503.35,254.01 L503.45,253.99 L503.55,253.97 L503.65,253.94 L503.75,253.91 L503.85,253.88 L503.95,253.84 L504.05,253.79 L504.15,253.74 L504.25,253.68 L504.35,253.61 L504.45,253.53 L504.55,253.44 L504.65,253.33 L504.75,253.21 L504.85,253.06 L504.95,252.88 L505.05,252.68 L505.15,252.42 L505.25,252.12 L505.35,251.74 L505.45,251.29 L505.55,250.74 L505.65,250.10 L505.75,249.37 L505.85,248.54 L505.95,247.65 L506.05,246.71 L506.15,245.77 L506.25,244.86 L506.35,244.02 L506.45,243.29 L506.55,242.70 L506.65,242.25 L506.75,241.93 L506.85,241.73 L506.95,241.60 L507.05,241.52 L507.15,241.43 L507.25,241.30 L507.35,241.10 L507.45,240.79 L507.55,240.36 L507.65,239.80 L507.75,239.08 L507.85,238.19 L507.95,237.13 L508.05,235.89 L508.15,234.47 L508.25,232.89 L508.35,231.16 L508.45,229.33 L508.55,227.46 L508.65,225.65 L508.75,223.97 L508.85,222.54 L508.95,221.43 L509.05,220.74 L509.50,220.50 L509.95,220.74 L510.05,221.43 L510.15,222.54 L510.25,223.97 L510.35,225.65 L510.45,227.47 L510.55,229.34 L510.65,231.18 L510.75,232.93 L510.85,234.55 L510.95,236.02 L511.05,237.33 L511.15,238.50 L511.25,239.54 L511.35,240.48 L511.45,241.33 L511.55,242.11 L511.65,242.85 L511.75,243.55 L511.85,244.21 L511.95,244.85 L512.05,245.47 L512.15,246.07 L512.25,246.65 L512.35,247.21 L512.45,247.74 L512.55,248.25 L512.65,248.74 L512.75,249.20 L512.85,249.63 L512.95,250.04 L513.05,250.43 L513.15,250.79 L513.25,251.12 L513.35,251.43 L513.45,251.71 L513.55,251.97 L513.65,252.21 L513.75,252.42 L513.85,252.62 L513.95,252.80 L514.05,252.96 L514.15,253.10 L514.25,253.23 L514.35,253.34 L514.45,253.44 L514.55,253.53 L514.65,253.61 L514.75,253.68 L514.85,253.74 L514.95,253.80 L515.05,253.84 L515.15,253.88 L515.25,253.91 L515.35,253.94 L515.45,253.97 L515.55,253.99 L515.65,254.01 L515.75,254.02 L515.85,254.04 L515.50,254.10 Z" fill="#2b39b2"/>
<path d="M617.90,254.10 L617.55,253.88 L617.65,253.84 L617.75,253.79 L617.85,253.74 L617.95,253.68 L618.05,253.61 L618.15,253.52 L618.25,253.43 L618.35,253.33 L618.45,253.21 L618.55,253.07 L618.65,252.92 L618.75,252.74 L618.85,252.55 L618.95,252.33 L619.05,252.09 L619.15,251.82 L619.25,251.52 L619.35,251.18 L619.45,250.80 L619.55,250.38 L619.65,249.91 L619.75,249.38 L619.85,248.77 L619.95,248.07 L620.05,247.25 L620.15,246.28 L620.25,245.14 L620.35,243.80 L620.45,242.22 L620.55,240.40 L620.65,238.33 L620.75,236.04 L620.85,233.57 L620.95,231.00 L621.05,228.44 L621.15,225.98 L621.25,223.73 L621.35,221.79 L621.45,220.23 L621.55,219.06 L621.65,218.27 L621.75,217.80 L621.85,217.57 L621.95,217.45 L622.05,217.36 L622.15,217.17 L622.25,216.81 L622.35,216.19 L622.45,215.26 L622.55,213.98 L622.65,212.30 L622.75,210.19 L622.85,207.63 L622.95,204.59 L623.05,201.07 L623.15,197.10 L623.25,192.74 L623.35,188.10 L623.45,183.36 L623.55,178.72 L623.65,174.42 L623.75,170.74 L623.85,167.90 L623.95,166.11 L624.40,165.50 L624.85,166.11 L624.95,167.90 L625.05,170.74 L625.15,174.43 L625.25,178.73 L625.35,183.37 L625.45,188.13 L625.55,192.80 L625.65,197.21 L625.75,201.26 L625.85,204.91 L625.95,208.15 L626.05,211.01 L626.15,213.53 L626.25,215.77 L626.35,217.81 L626.45,219.67 L626.55,221.42 L626.65,223.09 L626.75,224.69 L626.85,226.25 L626.95,227.77 L627.05,229.26 L627.15,230.71 L627.25,232.13 L627.35,233.52 L627.45,234.87 L627.55,236.17 L627.65,237.43 L627.75,238.64 L627.85,239.79 L627.95,240.90 L628.05,241.95 L628.15,242.94 L628.25,243.88 L628.35,244.77 L628.45,245.60 L628.55,246.37 L628.65,247.10 L628.75,247.77 L628.85,248.39 L628.95,248.96 L629.05,249.49 L629.15,249.97 L629.25,250.42 L629.35,250.82 L629.45,251.19 L629.55,251.52 L629.65,251.82 L629.75,252.09 L629.85,252.33 L629.95,252.55 L630.05,252.75 L630.15,252.92 L630.25,253.07 L630.35,253.21 L630.45,253.33 L630.55,253.43 L630.65,253.52 L630.75,253.61 L630.40,254.10 Z" fill="#2b39b2"/>
<path d="M20.9,254.10 L20.9,244.10 L21.6,245.60" fill="none" stroke="#e4262a" stroke-width="1.1"/>
<polyline points="110.40,254.10 110.43,253.78 110.45,253.45 110.48,253.13 110.50,252.81 110.53,252.49 110.56,252.16 110.59,251.84 110.62,251.52 110.65,251.20 110.68,250.88 110.71,250.55 110.74,250.23 110.78,249.91 110.82,249.58 110.85,249.26 110.90,248.94 110.94,248.62 110.99,248.29 111.04,247.97 111.09,247.65 111.15,247.33 111.22,247.00 111.30,246.68 111.40,246.36 111.53,246.04 111.95,245.72 111.95,245.39 111.95,245.07 111.95,244.75 111.95,244.42 111.95,244.10 111.95,243.78 111.95,243.46 111.95,243.13 111.95,242.81 111.95,242.49 111.95,242.17 111.95,241.84 111.95,241.52 111.95,241.20 112.45,241.20 112.45,241.52 112.45,241.84 112.45,242.17 112.45,242.49 112.45,242.81 112.45,243.13 112.45,243.46 112.45,243.78 112.45,244.10 112.45,244.42 112.45,244.75 112.45,245.07 112.45,245.39 112.45,245.72 112.87,246.04 113.01,246.36 113.11,246.68 113.19,247.00 113.26,247.33 113.32,247.65 113.37,247.97 113.42,248.29 113.47,248.62 113.51,248.94 113.55,249.26 113.59,249.58 113.63,249.91 113.66,250.23 113.70,250.55 113.73,250.88 113.76,251.20 113.79,251.52 113.82,251.84 113.85,252.16 113.88,252.49 113.90,252.81 113.93,253.13 113.95,253.45 113.98,253.78 114.00,254.10" fill="#f4a8a8" fill-opacity="0.7" stroke="#e4262a" stroke-width="1.05"/>
<polyline points="136.32,254.10 136.35,253.79 136.37,253.48 136.40,253.18 136.43,252.87 136.45,252.56 136.48,252.25 136.51,251.95 136.54,251.64 136.57,251.33 136.60,251.03 136.63,250.72 136.66,250.41 136.70,250.10 136.74,249.79 136.78,249.49 136.82,249.18 136.86,248.87 136.91,248.56 136.96,248.26 137.01,247.95 137.07,247.64 137.14,247.34 137.22,247.03 137.32,246.72 137.45,246.41 137.88,246.11 137.88,245.80 137.88,245.49 137.88,245.18 137.88,244.88 137.88,244.57 137.88,244.26 137.88,243.95 137.88,243.65 137.88,243.34 137.88,243.03 137.88,242.72 137.88,242.42 137.88,242.11 137.88,241.80 138.38,241.80 138.38,242.11 138.38,242.42 138.38,242.72 138.38,243.03 138.38,243.34 138.38,243.65 138.38,243.95 138.38,244.26 138.38,244.57 138.38,244.88 138.38,245.18 138.38,245.49 138.38,245.80 138.38,246.11 138.80,246.41 138.93,246.72 139.03,247.03 139.11,247.34 139.18,247.64 139.24,247.95 139.29,248.26 139.34,248.56 139.39,248.87 139.43,249.18 139.47,249.49 139.51,249.79 139.55,250.10 139.59,250.41 139.62,250.72 139.65,251.03 139.68,251.33 139.71,251.64 139.74,251.95 139.77,252.25 139.80,252.56 139.82,252.87 139.85,253.18 139.88,253.48 139.90,253.79 139.93,254.10" fill="#f4a8a8" fill-opacity="0.7" stroke="#e4262a" stroke-width="1.05"/>
<polyline points="159.89,254.10 159.91,253.77 159.94,253.44 159.96,253.10 159.99,252.77 160.02,252.44 160.04,252.10 160.07,251.77 160.10,251.44 160.13,251.11 160.16,250.78 160.20,250.44 160.23,250.11 160.27,249.78 160.30,249.44 160.34,249.11 160.38,248.78 160.43,248.45 160.47,248.12 160.52,247.78 160.58,247.45 160.64,247.12 160.71,246.78 160.79,246.45 160.88,246.12 161.02,245.79 161.44,245.46 161.44,245.12 161.44,244.79 161.44,244.46 161.44,244.12 161.44,243.79 161.44,243.46 161.44,243.13 161.44,242.80 161.44,242.46 161.44,242.13 161.44,241.80 161.44,241.47 161.44,241.13 161.44,240.80 161.94,240.80 161.94,241.13 161.94,241.47 161.94,241.80 161.94,242.13 161.94,242.46 161.94,242.80 161.94,243.13 161.94,243.46 161.94,243.79 161.94,244.12 161.94,244.46 161.94,244.79 161.94,245.12 161.94,245.46 162.36,245.79 162.50,246.12 162.59,246.45 162.67,246.78 162.74,247.12 162.80,247.45 162.86,247.78 162.91,248.12 162.95,248.45 163.00,248.78 163.04,249.11 163.08,249.44 163.11,249.78 163.15,250.11 163.18,250.44 163.22,250.78 163.25,251.11 163.28,251.44 163.31,251.77 163.34,252.10 163.36,252.44 163.39,252.77 163.42,253.10 163.44,253.44 163.47,253.77 163.49,254.10" fill="#f4a8a8" fill-opacity="0.7" stroke="#e4262a" stroke-width="1.05"/>
<polyline points="254.15,254.10 254.17,253.75 254.20,253.39 254.22,253.04 254.25,252.69 254.28,252.34 254.30,251.98 254.33,251.63 254.36,251.28 254.39,250.93 254.42,250.57 254.46,250.22 254.49,249.87 254.53,249.52 254.56,249.16 254.60,248.81 254.64,248.46 254.69,248.11 254.73,247.75 254.78,247.40 254.84,247.05 254.90,246.70 254.97,246.34 255.05,245.99 255.14,245.64 255.28,245.29 255.70,244.94 255.70,244.58 255.70,244.23 255.70,243.88 255.70,243.53 255.70,243.17 255.70,242.82 255.70,242.47 255.70,242.12 255.70,241.76 255.70,241.41 255.70,241.06 255.70,240.71 255.70,240.35 255.70,240.00 256.20,240.00 256.20,240.35 256.20,240.71 256.20,241.06 256.20,241.41 256.20,241.76 256.20,242.12 256.20,242.47 256.20,242.82 256.20,243.17 256.20,243.53 256.20,243.88 256.20,244.23 256.20,244.58 256.20,244.94 256.62,245.29 256.76,245.64 256.85,245.99 256.93,246.34 257.00,246.70 257.06,247.05 257.12,247.40 257.17,247.75 257.21,248.11 257.26,248.46 257.30,248.81 257.34,249.16 257.37,249.52 257.41,249.87 257.44,250.22 257.48,250.57 257.51,250.93 257.54,251.28 257.57,251.63 257.60,251.98 257.62,252.34 257.65,252.69 257.68,253.04 257.70,253.39 257.73,253.75 257.75,254.10" fill="#f4a8a8" fill-opacity="0.7" stroke="#e4262a" stroke-width="1.05"/>
<polyline points="364.15,254.10 364.18,253.75 364.20,253.39 364.23,253.04 364.25,252.69 364.28,252.34 364.31,251.98 364.33,251.63 364.36,251.28 364.39,250.93 364.43,250.57 364.46,250.22 364.49,249.87 364.53,249.52 364.56,249.16 364.60,248.81 364.64,248.46 364.69,248.11 364.73,247.75 364.78,247.40 364.84,247.05 364.90,246.70 364.97,246.34 365.05,245.99 365.15,245.64 365.28,245.29 365.70,244.94 365.70,244.58 365.70,244.23 365.70,243.88 365.70,243.53 365.70,243.17 365.70,242.82 365.70,242.47 365.70,242.12 365.70,241.76 365.70,241.41 365.70,241.06 365.70,240.71 365.70,240.35 365.70,240.00 366.20,240.00 366.20,240.35 366.20,240.71 366.20,241.06 366.20,241.41 366.20,241.76 366.20,242.12 366.20,242.47 366.20,242.82 366.20,243.17 366.20,243.53 366.20,243.88 366.20,244.23 366.20,244.58 366.20,244.94 366.62,245.29 366.76,245.64 366.85,245.99 366.93,246.34 367.00,246.70 367.06,247.05 367.12,247.40 367.17,247.75 367.22,248.11 367.26,248.46 367.30,248.81 367.34,249.16 367.38,249.52 367.41,249.87 367.45,250.22 367.48,250.57 367.51,250.93 367.54,251.28 367.57,251.63 367.60,251.98 367.62,252.34 367.65,252.69 367.68,253.04 367.70,253.39 367.73,253.75 367.75,254.10" fill="#f4a8a8" fill-opacity="0.7" stroke="#e4262a" stroke-width="1.05"/>
<polyline points="489.80,254.10 489.82,253.72 489.85,253.34 489.87,252.96 489.90,252.58 489.93,252.20 489.95,251.82 489.98,251.44 490.01,251.06 490.04,250.68 490.07,250.30 490.11,249.92 490.14,249.54 490.18,249.16 490.21,248.78 490.25,248.40 490.29,248.02 490.34,247.64 490.38,247.26 490.43,246.88 490.49,246.50 490.55,246.12 490.62,245.74 490.70,245.36 490.79,244.98 490.93,244.60 491.35,244.22 491.35,243.84 491.35,243.46 491.35,243.08 491.35,242.70 491.35,242.32 491.35,241.94 491.35,241.56 491.35,241.18 491.35,240.80 491.35,240.42 491.35,240.04 491.35,239.66 491.35,239.28 491.35,238.90 491.85,238.90 491.85,239.28 491.85,239.66 491.85,240.04 491.85,240.42 491.85,240.80 491.85,241.18 491.85,241.56 491.85,241.94 491.85,242.32 491.85,242.70 491.85,243.08 491.85,243.46 491.85,243.84 491.85,244.22 492.27,244.60 492.41,244.98 492.50,245.36 492.58,245.74 492.65,246.12 492.71,246.50 492.77,246.88 492.82,247.26 492.86,247.64 492.91,248.02 492.95,248.40 492.99,248.78 493.02,249.16 493.06,249.54 493.09,249.92 493.13,250.30 493.16,250.68 493.19,251.06 493.22,251.44 493.25,251.82 493.27,252.20 493.30,252.58 493.33,252.96 493.35,253.34 493.38,253.72 493.40,254.10" fill="#f4a8a8" fill-opacity="0.7" stroke="#e4262a" stroke-width="1.05"/>
<polyline points="584.06,254.10 584.08,253.71 584.11,253.31 584.13,252.92 584.16,252.53 584.19,252.14 584.21,251.75 584.24,251.35 584.27,250.96 584.30,250.57 584.33,250.18 584.37,249.78 584.40,249.39 584.44,249.00 584.47,248.60 584.51,248.21 584.55,247.82 584.60,247.43 584.64,247.03 584.69,246.64 584.75,246.25 584.81,245.86 584.88,245.47 584.96,245.07 585.05,244.68 585.19,244.29 585.61,243.90 585.61,243.50 585.61,243.11 585.61,242.72 585.61,242.32 585.61,241.93 585.61,241.54 585.61,241.15 585.61,240.75 585.61,240.36 585.61,239.97 585.61,239.58 585.61,239.19 585.61,238.79 585.61,238.40 586.11,238.40 586.11,238.79 586.11,239.19 586.11,239.58 586.11,239.97 586.11,240.36 586.11,240.75 586.11,241.15 586.11,241.54 586.11,241.93 586.11,242.32 586.11,242.72 586.11,243.11 586.11,243.50 586.11,243.90 586.53,244.29 586.67,244.68 586.76,245.07 586.84,245.47 586.91,245.86 586.97,246.25 587.03,246.64 587.08,247.03 587.12,247.43 587.17,247.82 587.21,248.21 587.25,248.60 587.28,249.00 587.32,249.39 587.35,249.78 587.39,250.18 587.42,250.57 587.45,250.96 587.48,251.35 587.51,251.75 587.53,252.14 587.56,252.53 587.59,252.92 587.61,253.31 587.64,253.71 587.66,254.10" fill="#f4a8a8" fill-opacity="0.7" stroke="#e4262a" stroke-width="1.05"/>
<polyline points="607.62,254.10 607.65,253.71 607.67,253.31 607.70,252.92 607.73,252.53 607.75,252.14 607.78,251.75 607.81,251.35 607.84,250.96 607.87,250.57 607.90,250.18 607.93,249.78 607.96,249.39 608.00,249.00 608.04,248.60 608.08,248.21 608.12,247.82 608.16,247.43 608.21,247.03 608.26,246.64 608.31,246.25 608.37,245.86 608.44,245.47 608.52,245.07 608.62,244.68 608.75,244.29 609.17,243.90 609.17,243.50 609.17,243.11 609.17,242.72 609.17,242.32 609.17,241.93 609.17,241.54 609.17,241.15 609.17,240.75 609.17,240.36 609.17,239.97 609.17,239.58 609.17,239.19 609.17,238.79 609.17,238.40 609.67,238.40 609.67,238.79 609.67,239.19 609.67,239.58 609.67,239.97 609.67,240.36 609.67,240.75 609.67,241.15 609.67,241.54 609.67,241.93 609.67,242.32 609.67,242.72 609.67,243.11 609.67,243.50 609.67,243.90 610.10,244.29 610.23,244.68 610.33,245.07 610.41,245.47 610.48,245.86 610.54,246.25 610.59,246.64 610.64,247.03 610.69,247.43 610.73,247.82 610.77,248.21 610.81,248.60 610.85,249.00 610.89,249.39 610.92,249.78 610.95,250.18 610.98,250.57 611.01,250.96 611.04,251.35 611.07,251.75 611.10,252.14 611.12,252.53 611.15,252.92 611.18,253.31 611.20,253.71 611.22,254.10" fill="#f4a8a8" fill-opacity="0.7" stroke="#e4262a" stroke-width="1.05"/>
<line x1="20.3" y1="253.80" x2="656" y2="253.80" stroke="#e4262a" stroke-width="1.80"/>
<line x1="20.3" y1="255.05" x2="656" y2="255.05" stroke="#1c1c6a" stroke-width="1.20" opacity="0.80"/>
<rect x="22.0" y="254.15" width="1.9" height="1" fill="#1c1c6a" opacity="0.52"/>
<rect x="25.7" y="254.15" width="2.4" height="1" fill="#1c1c6a" opacity="0.75"/>
<rect x="28.1" y="254.15" width="2.1" height="1" fill="#1c1c6a" opacity="0.61"/>
<rect x="30.3" y="254.15" width="1.4" height="1" fill="#1c1c6a" opacity="0.42"/>
<rect x="32.5" y="254.15" width="1.7" height="1" fill="#1c1c6a" opacity="0.76"/>
<rect x="35.5" y="254.15" width="2.3" height="1" fill="#1c1c6a" opacity="0.65"/>
<rect x="37.9" y="254.15" width="2.3" height="1" fill="#1c1c6a" opacity="0.60"/>
<rect x="42.6" y="254.15" width="2.0" height="1" fill="#1c1c6a" opacity="0.67"/>
<rect x="45.7" y="254.15" width="2.2" height="1" fill="#1c1c6a" opacity="0.77"/>
<rect x="50.3" y="254.15" width="1.5" height="1" fill="#1c1c6a" opacity="0.68"/>
<rect x="53.7" y="254.15" width="1.0" height="1" fill="#1c1c6a" opacity="0.32"/>
<rect x="55.9" y="254.15" width="1.1" height="1" fill="#1c1c6a" opacity="0.38"/>
<rect x="59.4" y="254.15" width="2.0" height="1" fill="#1c1c6a" opacity="0.57"/>
<rect x="62.7" y="254.15" width="1.9" height="1" fill="#1c1c6a" opacity="0.45"/>
<rect x="66.1" y="254.15" width="2.1" height="1" fill="#1c1c6a" opacity="0.50"/>
<rect x="68.6" y="254.15" width="2.3" height="1" fill="#1c1c6a" opacity="0.66"/>
<rect x="71.7" y="254.15" width="1.4" height="1" fill="#1c1c6a" opacity="0.56"/>
<rect x="75.5" y="254.15" width="1.2" height="1" fill="#1c1c6a" opacity="0.30"/>
<rect x="78.2" y="254.15" width="2.1" height="1" fill="#1c1c6a" opacity="0.37"/>
<rect x="81.5" y="254.15" width="1.1" height="1" fill="#1c1c6a" opacity="0.40"/>
<rect x="84.0" y="254.15" width="1.5" height="1" fill="#1c1c6a" opacity="0.38"/>
<rect x="86.1" y="254.15" width="1.0" height="1" fill="#1c1c6a" opacity="0.38"/>
<rect x="89.6" y="254.15" width="0.9" height="1" fill="#1c1c6a" opacity="0.31"/>
<rect x="92.9" y="254.15" width="1.5" height="1" fill="#1c1c6a" opacity="0.65"/>
<rect x="95.1" y="254.15" width="1.5" height="1" fill="#1c1c6a" opacity="0.50"/>
<rect x="97.2" y="254.15" width="2.4" height="1" fill="#1c1c6a" opacity="0.41"/>
<rect x="99.5" y="254.15" width="1.6" height="1" fill="#1c1c6a" opacity="0.38"/>
<rect x="103.3" y="254.15" width="1.4" height="1" fill="#1c1c6a" opacity="0.36"/>
<rect x="105.5" y="254.15" width="2.0" height="1" fill="#1c1c6a" opacity="0.44"/>
<rect x="109.8" y="254.15" width="1.6" height="1" fill="#1c1c6a" opacity="0.77"/>
<rect x="112.8" y="254.15" width="1.2" height="1" fill="#1c1c6a" opacity="0.43"/>
<rect x="117.2" y="254.15" width="1.9" height="1" fill="#1c1c6a" opacity="0.47"/>
<rect x="119.5" y="254.15" width="2.0" height="1" fill="#1c1c6a" opacity="0.78"/>
<rect x="123.3" y="254.15" width="0.8" height="1" fill="#1c1c6a" opacity="0.32"/>
<rect x="125.5" y="254.15" width="1.1" height="1" fill="#1c1c6a" opacity="0.32"/>
<rect x="127.7" y="254.15" width="1.9" height="1" fill="#1c1c6a" opacity="0.75"/>
<rect x="130.3" y="254.15" width="2.5" height="1" fill="#1c1c6a" opacity="0.54"/>
<rect x="134.7" y="254.15" width="2.4" height="1" fill="#1c1c6a" opacity="0.77"/>
<rect x="136.8" y="254.15" width="1.3" height="1" fill="#1c1c6a" opacity="0.60"/>
<rect x="141.6" y="254.15" width="0.9" height="1" fill="#1c1c6a" opacity="0.45"/>
<rect x="146.2" y="254.15" width="1.0" height="1" fill="#1c1c6a" opacity="0.49"/>
<rect x="149.2" y="254.15" width="2.0" height="1" fill="#1c1c6a" opacity="0.76"/>
<rect x="151.7" y="254.15" width="2.1" height="1" fill="#1c1c6a" opacity="0.67"/>
<rect x="156.2" y="254.15" width="1.7" height="1" fill="#1c1c6a" opacity="0.76"/>
<rect x="159.3" y="254.15" width="1.5" height="1" fill="#1c1c6a" opacity="0.41"/>
<rect x="163.7" y="254.15" width="1.6" height="1" fill="#1c1c6a" opacity="0.43"/>
<rect x="166.2" y="254.15" width="2.0" height="1" fill="#1c1c6a" opacity="0.60"/>
<rect x="170.3" y="254.15" width="1.5" height="1" fill="#1c1c6a" opacity="0.54"/>
<rect x="172.8" y="254.15" width="2.0" height="1" fill="#1c1c6a" opacity="0.31"/>
<rect x="176.2" y="254.15" width="2.1" height="1" fill="#1c1c6a" opacity="0.64"/>
<rect x="178.4" y="254.15" width="1.2" height="1" fill="#1c1c6a" opacity="0.72"/>
<rect x="182.4" y="254.15" width="2.3" height="1" fill="#1c1c6a" opacity="0.74"/>
<rect x="185.7" y="254.15" width="2.3" height="1" fill="#1c1c6a" opacity="0.67"/>
<rect x="188.7" y="254.15" width="1.4" height="1" fill="#1c1c6a" opacity="0.34"/>
<rect x="191.9" y="254.15" width="2.4" height="1" fill="#1c1c6a" opacity="0.35"/>
<rect x="195.6" y="254.15" width="1.0" height="1" fill="#1c1c6a" opacity="0.34"/>
<rect x="199.6" y="254.15" width="1.2" height="1" fill="#1c1c6a" opacity="0.32"/>
<rect x="202.0" y="254.15" width="1.9" height="1" fill="#1c1c6a" opacity="0.59"/>
<rect x="204.1" y="254.15" width="1.2" height="1" fill="#1c1c6a" opacity="0.78"/>
<rect x="206.7" y="254.15" width="1.8" height="1" fill="#1c1c6a" opacity="0.51"/>
<rect x="211.1" y="254.15" width="1.8" height="1" fill="#1c1c6a" opacity="0.69"/>
<rect x="214.7" y="254.15" width="1.1" height="1" fill="#1c1c6a" opacity="0.39"/>
<rect x="216.9" y="254.15" width="2.2" height="1" fill="#1c1c6a" opacity="0.36"/>
<rect x="219.0" y="254.15" width="2.4" height="1" fill="#1c1c6a" opacity="0.40"/>
<rect x="223.7" y="254.15" width="0.9" height="1" fill="#1c1c6a" opacity="0.53"/>
<rect x="226.3" y="254.15" width="2.2" height="1" fill="#1c1c6a" opacity="0.61"/>
<rect x="230.3" y="254.15" width="2.1" height="1" fill="#1c1c6a" opacity="0.74"/>
<rect x="233.3" y="254.15" width="1.8" height="1" fill="#1c1c6a" opacity="0.52"/>
<rect x="235.6" y="254.15" width="2.2" height="1" fill="#1c1c6a" opacity="0.60"/>
<rect x="240.1" y="254.15" width="1.2" height="1" fill="#1c1c6a" opacity="0.57"/>
<rect x="243.5" y="254.15" width="2.0" height="1" fill="#1c1c6a" opacity="0.34"/>
<rect x="246.5" y="254.15" width="1.6" height="1" fill="#1c1c6a" opacity="0.34"/>
<rect x="250.2" y="254.15" width="2.1" height="1" fill="#1c1c6a" opacity="0.51"/>
<rect x="254.1" y="254.15" width="1.8" height="1" fill="#1c1c6a" opacity="0.41"/>
<rect x="257.2" y="254.15" width="2.5" height="1" fill="#1c1c6a" opacity="0.47"/>
<rect x="260.5" y="254.15" width="0.9" height="1" fill="#1c1c6a" opacity="0.41"/>
<rect x="263.0" y="254.15" width="2.4" height="1" fill="#1c1c6a" opacity="0.66"/>
<rect x="267.6" y="254.15" width="2.5" height="1" fill="#1c1c6a" opacity="0.61"/>
<rect x="272.4" y="254.15" width="1.7" height="1" fill="#1c1c6a" opacity="0.51"/>
<rect x="277.2" y="254.15" width="2.3" height="1" fill="#1c1c6a" opacity="0.77"/>
<rect x="280.7" y="254.15" width="2.1" height="1" fill="#1c1c6a" opacity="0.50"/>
<rect x="285.7" y="254.15" width="2.4" height="1" fill="#1c1c6a" opacity="0.45"/>
<rect x="290.5" y="254.15" width="1.1" height="1" fill="#1c1c6a" opacity="0.35"/>
<rect x="294.6" y="254.15" width="1.3" height="1" fill="#1c1c6a" opacity="0.56"/>
<rect x="298.5" y="254.15" width="0.9" height="1" fill="#1c1c6a" opacity="0.67"/>
<rect x="301.4" y="254.15" width="1.5" height="1" fill="#1c1c6a" opacity="0.47"/>
<rect x="305.6" y="254.15" width="2.1" height="1" fill="#1c1c6a" opacity="0.44"/>
<rect x="307.9" y="254.15" width="1.3" height="1" fill="#1c1c6a" opacity="0.51"/>
<rect x="310.1" y="254.15" width="1.1" height="1" fill="#1c1c6a" opacity="0.68"/>
<rect x="314.2" y="254.15" width="2.5" height="1" fill="#1c1c6a" opacity="0.79"/>
<rect x="318.9" y="254.15" width="1.4" height="1" fill="#1c1c6a" opacity="0.38"/>
<rect x="321.8" y="254.15" width="1.6" height="1" fill="#1c1c6a" opacity="0.56"/>
<rect x="325.4" y="254.15" width="1.4" height="1" fill="#1c1c6a" opacity="0.73"/>
<rect x="328.3" y="254.15" width="1.6" height="1" fill="#1c1c6a" opacity="0.74"/>
<rect x="332.7" y="254.15" width="1.3" height="1" fill="#1c1c6a" opacity="0.42"/>
<rect x="337.1" y="254.15" width="0.8" height="1" fill="#1c1c6a" opacity="0.37"/>
<rect x="340.7" y="254.15" width="1.7" height="1" fill="#1c1c6a" opacity="0.38"/>
<rect x="342.9" y="254.15" width="1.1" height="1" fill="#1c1c6a" opacity="0.68"/>
<rect x="346.3" y="254.15" width="2.5" height="1" fill="#1c1c6a" opacity="0.69"/>
<rect x="351.2" y="254.15" width="0.9" height="1" fill="#1c1c6a" opacity="0.39"/>
<rect x="353.2" y="254.15" width="1.5" height="1" fill="#1c1c6a" opacity="0.47"/>
<rect x="355.4" y="254.15" width="1.7" height="1" fill="#1c1c6a" opacity="0.35"/>
<rect x="358.3" y="254.15" width="1.2" height="1" fill="#1c1c6a" opacity="0.70"/>
<rect x="361.6" y="254.15" width="1.2" height="1" fill="#1c1c6a" opacity="0.32"/>
<rect x="364.9" y="254.15" width="1.9" height="1" fill="#1c1c6a" opacity="0.64"/>
<rect x="369.6" y="254.15" width="2.2" height="1" fill="#1c1c6a" opacity="0.42"/>
<rect x="372.0" y="254.15" width="2.1" height="1" fill="#1c1c6a" opacity="0.69"/>
<rect x="375.6" y="254.15" width="2.2" height="1" fill="#1c1c6a" opacity="0.58"/>
<rect x="378.4" y="254.15" width="1.1" height="1" fill="#1c1c6a" opacity="0.31"/>
<rect x="382.3" y="254.15" width="2.3" height="1" fill="#1c1c6a" opacity="0.75"/>
<rect x="385.7" y="254.15" width="1.9" height="1" fill="#1c1c6a" opacity="0.76"/>
<rect x="390.2" y="254.15" width="1.8" height="1" fill="#1c1c6a" opacity="0.51"/>
<rect x="393.7" y="254.15" width="1.1" height="1" fill="#1c1c6a" opacity="0.39"/>
<rect x="397.8" y="254.15" width="2.5" height="1" fill="#1c1c6a" opacity="0.57"/>
<rect x="401.0" y="254.15" width="1.4" height="1" fill="#1c1c6a" opacity="0.53"/>
<rect x="405.4" y="254.15" width="1.6" height="1" fill="#1c1c6a" opacity="0.78"/>
<rect x="407.9" y="254.15" width="1.3" height="1" fill="#1c1c6a" opacity="0.56"/>
<rect x="411.1" y="254.15" width="2.2" height="1" fill="#1c1c6a" opacity="0.71"/>
<rect x="415.9" y="254.15" width="1.8" height="1" fill="#1c1c6a" opacity="0.32"/>
<rect x="419.6" y="254.15" width="1.7" height="1" fill="#1c1c6a" opacity="0.54"/>
<rect x="422.5" y="254.15" width="2.0" height="1" fill="#1c1c6a" opacity="0.76"/>
<rect x="424.8" y="254.15" width="1.9" height="1" fill="#1c1c6a" opacity="0.49"/>
<rect x="428.3" y="254.15" width="2.3" height="1" fill="#1c1c6a" opacity="0.78"/>
<rect x="432.2" y="254.15" width="1.1" height="1" fill="#1c1c6a" opacity="0.76"/>
<rect x="434.8" y="254.15" width="1.5" height="1" fill="#1c1c6a" opacity="0.71"/>
<rect x="437.7" y="254.15" width="1.3" height="1" fill="#1c1c6a" opacity="0.77"/>
<rect x="442.6" y="254.15" width="1.3" height="1" fill="#1c1c6a" opacity="0.50"/>
<rect x="445.4" y="254.15" width="1.0" height="1" fill="#1c1c6a" opacity="0.43"/>
<rect x="450.4" y="254.15" width="0.9" height="1" fill="#1c1c6a" opacity="0.41"/>
<rect x="453.0" y="254.15" width="0.9" height="1" fill="#1c1c6a" opacity="0.56"/>
<rect x="457.2" y="254.15" width="2.2" height="1" fill="#1c1c6a" opacity="0.62"/>
<rect x="461.6" y="254.15" width="0.8" height="1" fill="#1c1c6a" opacity="0.44"/>
<rect x="466.5" y="254.15" width="0.9" height="1" fill="#1c1c6a" opacity="0.43"/>
<rect x="470.0" y="254.15" width="1.3" height="1" fill="#1c1c6a" opacity="0.57"/>
<rect x="472.1" y="254.15" width="1.2" height="1" fill="#1c1c6a" opacity="0.78"/>
<rect x="474.5" y="254.15" width="2.3" height="1" fill="#1c1c6a" opacity="0.39"/>
<rect x="479.5" y="254.15" width="1.9" height="1" fill="#1c1c6a" opacity="0.62"/>
<rect x="481.9" y="254.15" width="0.9" height="1" fill="#1c1c6a" opacity="0.68"/>
<rect x="484.5" y="254.15" width="1.1" height="1" fill="#1c1c6a" opacity="0.71"/>
<rect x="489.1" y="254.15" width="0.9" height="1" fill="#1c1c6a" opacity="0.78"/>
<rect x="492.7" y="254.15" width="1.5" height="1" fill="#1c1c6a" opacity="0.35"/>
<rect x="495.9" y="254.15" width="2.5" height="1" fill="#1c1c6a" opacity="0.44"/>
<rect x="498.3" y="254.15" width="1.0" height="1" fill="#1c1c6a" opacity="0.36"/>
<rect x="501.3" y="254.15" width="2.4" height="1" fill="#1c1c6a" opacity="0.34"/>
<rect x="503.9" y="254.15" width="2.4" height="1" fill="#1c1c6a" opacity="0.80"/>
<rect x="508.8" y="254.15" width="1.2" height="1" fill="#1c1c6a" opacity="0.48"/>
<rect x="513.7" y="254.15" width="1.6" height="1" fill="#1c1c6a" opacity="0.65"/>
<rect x="516.6" y="254.15" width="0.8" height="1" fill="#1c1c6a" opacity="0.47"/>
<rect x="520.9" y="254.15" width="2.1" height="1" fill="#1c1c6a" opacity="0.58"/>
<rect x="524.3" y="254.15" width="1.7" height="1" fill="#1c1c6a" opacity="0.52"/>
<rect x="527.9" y="254.15" width="2.2" height="1" fill="#1c1c6a" opacity="0.40"/>
<rect x="531.7" y="254.15" width="2.4" height="1" fill="#1c1c6a" opacity="0.72"/>
<rect x="534.2" y="254.15" width="2.4" height="1" fill="#1c1c6a" opacity="0.72"/>
<rect x="536.7" y="254.15" width="1.3" height="1" fill="#1c1c6a" opacity="0.40"/>
<rect x="538.9" y="254.15" width="2.5" height="1" fill="#1c1c6a" opacity="0.50"/>
<rect x="543.5" y="254.15" width="1.0" height="1" fill="#1c1c6a" opacity="0.31"/>
<rect x="548.1" y="254.15" width="2.1" height="1" fill="#1c1c6a" opacity="0.80"/>
<rect x="552.1" y="254.15" width="1.7" height="1" fill="#1c1c6a" opacity="0.68"/>
<rect x="554.4" y="254.15" width="1.7" height="1" fill="#1c1c6a" opacity="0.52"/>
<rect x="556.9" y="254.15" width="1.8" height="1" fill="#1c1c6a" opacity="0.46"/>
<rect x="560.4" y="254.15" width="1.4" height="1" fill="#1c1c6a" opacity="0.46"/>
<rect x="563.5" y="254.15" width="1.8" height="1" fill="#1c1c6a" opacity="0.79"/>
<rect x="568.3" y="254.15" width="2.3" height="1" fill="#1c1c6a" opacity="0.72"/>
<rect x="571.1" y="254.15" width="2.5" height="1" fill="#1c1c6a" opacity="0.43"/>
<rect x="573.5" y="254.15" width="1.7" height="1" fill="#1c1c6a" opacity="0.67"/>
<rect x="576.5" y="254.15" width="1.9" height="1" fill="#1c1c6a" opacity="0.44"/>
<rect x="581.4" y="254.15" width="1.6" height="1" fill="#1c1c6a" opacity="0.54"/>
<rect x="585.0" y="254.15" width="2.3" height="1" fill="#1c1c6a" opacity="0.79"/>
<rect x="588.6" y="254.15" width="1.6" height="1" fill="#1c1c6a" opacity="0.61"/>
<rect x="590.8" y="254.15" width="1.5" height="1" fill="#1c1c6a" opacity="0.72"/>
<rect x="595.1" y="254.15" width="0.9" height="1" fill="#1c1c6a" opacity="0.73"/>
<rect x="598.3" y="254.15" width="2.5" height="1" fill="#1c1c6a" opacity="0.48"/>
<rect x="600.9" y="254.15" width="1.7" height="1" fill="#1c1c6a" opacity="0.74"/>
<rect x="604.2" y="254.15" width="2.3" height="1" fill="#1c1c6a" opacity="0.66"/>
<rect x="607.3" y="254.15" width="1.3" height="1" fill="#1c1c6a" opacity="0.55"/>
<rect x="610.5" y="254.15" width="1.4" height="1" fill="#1c1c6a" opacity="0.63"/>
<rect x="615.1" y="254.15" width="1.8" height="1" fill="#1c1c6a" opacity="0.37"/>
<rect x="617.8" y="254.15" width="1.4" height="1" fill="#1c1c6a" opacity="0.61"/>
<rect x="620.2" y="254.15" width="0.9" height="1" fill="#1c1c6a" opacity="0.46"/>
<rect x="623.1" y="254.15" width="0.9" height="1" fill="#1c1c6a" opacity="0.57"/>
<rect x="627.8" y="254.15" width="1.7" height="1" fill="#1c1c6a" opacity="0.67"/>
<rect x="632.3" y="254.15" width="2.2" height="1" fill="#1c1c6a" opacity="0.76"/>
<rect x="635.6" y="254.15" width="2.0" height="1" fill="#1c1c6a" opacity="0.36"/>
<rect x="640.3" y="254.15" width="1.4" height="1" fill="#1c1c6a" opacity="0.54"/>
<rect x="644.9" y="254.15" width="1.3" height="1" fill="#1c1c6a" opacity="0.39"/>
<rect x="649.4" y="254.15" width="1.8" height="1" fill="#1c1c6a" opacity="0.34"/>
<rect x="651.5" y="254.15" width="1.4" height="1" fill="#1c1c6a" opacity="0.30"/>
<ellipse cx="112.20" cy="254.30" rx="1.3" ry="0.8" fill="#2a3aa0" opacity="0.85"/>
<ellipse cx="138.12" cy="254.30" rx="1.3" ry="0.8" fill="#2a3aa0" opacity="0.85"/>
<ellipse cx="161.69" cy="254.30" rx="1.3" ry="0.8" fill="#2a3aa0" opacity="0.85"/>
<ellipse cx="255.95" cy="254.30" rx="1.3" ry="0.8" fill="#2a3aa0" opacity="0.85"/>
<ellipse cx="365.95" cy="254.30" rx="1.3" ry="0.8" fill="#2a3aa0" opacity="0.85"/>
<ellipse cx="491.60" cy="254.30" rx="1.3" ry="0.8" fill="#2a3aa0" opacity="0.85"/>
<ellipse cx="585.86" cy="254.30" rx="1.3" ry="0.8" fill="#2a3aa0" opacity="0.85"/>
<ellipse cx="609.42" cy="254.30" rx="1.3" ry="0.8" fill="#2a3aa0" opacity="0.85"/>
<line x1="20.60" y1="254.10" x2="20.60" y2="258.60" stroke="#e4262a" stroke-width="0.9"/>
<rect x="11.25" y="258.30" width="18.75" height="9.9" rx="0.6" fill="#fff" stroke="#e4262a" stroke-width="1"/>
<text x="20.62" y="266.20" class="bx" text-anchor="middle">100.0</text>
<line x1="112.20" y1="254.10" x2="112.20" y2="258.60" stroke="#e4262a" stroke-width="0.9"/>
<rect x="103.75" y="258.30" width="18.75" height="9.9" rx="0.6" fill="#fff" stroke="#e4262a" stroke-width="1"/>
<text x="113.12" y="266.20" class="bx" text-anchor="middle">139.0</text>
<line x1="138.12" y1="254.10" x2="138.12" y2="258.60" stroke="#e4262a" stroke-width="0.9"/>
<rect x="129.25" y="258.30" width="18.55" height="9.9" rx="0.6" fill="#fff" stroke="#e4262a" stroke-width="1"/>
<text x="138.53" y="266.20" class="bx" text-anchor="middle">150.0</text>
<line x1="161.69" y1="254.10" x2="161.69" y2="258.60" stroke="#e4262a" stroke-width="0.9"/>
<rect x="153.30" y="258.30" width="19.20" height="9.9" rx="0.6" fill="#fff" stroke="#e4262a" stroke-width="1"/>
<text x="162.90" y="266.20" class="bx" text-anchor="middle">160.0</text>
<line x1="255.95" y1="254.10" x2="255.95" y2="258.60" stroke="#e4262a" stroke-width="0.9"/>
<rect x="247.50" y="258.30" width="19.25" height="9.9" rx="0.6" fill="#fff" stroke="#e4262a" stroke-width="1"/>
<text x="257.12" y="266.20" class="bx" text-anchor="middle">200.0</text>
<line x1="365.95" y1="254.10" x2="365.95" y2="258.60" stroke="#e4262a" stroke-width="0.9"/>
<rect x="355.00" y="258.30" width="21.75" height="9.9" rx="0.6" fill="#fff" stroke="#e4262a" stroke-width="1"/>
<text x="365.88" y="266.20" class="bx" text-anchor="middle">246.68</text>
<line x1="491.60" y1="254.10" x2="491.60" y2="258.60" stroke="#e4262a" stroke-width="0.9"/>
<rect x="482.40" y="258.30" width="18.90" height="9.9" rx="0.6" fill="#fff" stroke="#e4262a" stroke-width="1"/>
<text x="491.85" y="266.20" class="bx" text-anchor="middle">300.0</text>
<line x1="585.86" y1="254.10" x2="585.86" y2="258.60" stroke="#e4262a" stroke-width="0.9"/>
<rect x="577.00" y="258.30" width="18.60" height="9.9" rx="0.6" fill="#fff" stroke="#e4262a" stroke-width="1"/>
<text x="586.30" y="266.20" class="bx" text-anchor="middle">340.0</text>
<line x1="609.42" y1="254.10" x2="609.42" y2="258.60" stroke="#e4262a" stroke-width="0.9"/>
<rect x="600.30" y="258.30" width="18.50" height="9.9" rx="0.6" fill="#fff" stroke="#e4262a" stroke-width="1"/>
<text x="609.55" y="266.20" class="bx" text-anchor="middle">350.0</text>
<text x="54.55" y="209.20" class="lb">e3</text>
<text x="94.05" y="209.20" class="lb">e7</text>
<text x="147.05" y="227.60" class="lb">e5</text>
<text x="170.80" y="193.40" class="lb">e9</text>
<text x="202.05" y="181.40" class="lb">e1C</text>
<text x="244.55" y="193.40" class="lb">e6</text>
<text x="295.80" y="209.60" class="lb">e4</text>
<text x="324.85" y="209.60" class="lb it">F9</text>
<text x="351.30" y="209.60" class="lb">e2c</text>
<text x="382.85" y="174.10" class="lb it">HFE</text>
<text x="502.05" y="209.60" class="lb">e8</text>
<text x="596.75" y="173.60" class="lb">e10</text>
<line x1="183.75" y1="196.25" x2="191.75" y2="208.00" stroke="#111" stroke-width="1.1"/>
<line x1="215.75" y1="187.00" x2="215.75" y2="215.00" stroke="#111" stroke-width="1.1"/>
<line x1="246.25" y1="197.50" x2="239.50" y2="213.25" stroke="#111" stroke-width="1.1"/>
<line x1="335.50" y1="213.75" x2="339.25" y2="225.75" stroke="#111" stroke-width="1.1"/>
<line x1="357.50" y1="213.75" x2="353.50" y2="220.75" stroke="#111" stroke-width="1.1"/>
<text x="1.20" y="157.20" class="pl">b</text>
<text x="1.1" y="291.2" class="pl">c</text>
<line x1="76.70" y1="284.35" x2="658.10" y2="284.35" stroke="#000" stroke-width="1.45"/>
<line x1="9.80" y1="323.10" x2="658.10" y2="323.10" stroke="#000" stroke-width="1.45"/>
<line x1="9.80" y1="362.40" x2="658.10" y2="362.40" stroke="#000" stroke-width="1.45"/>
<line x1="9.80" y1="401.40" x2="658.10" y2="401.40" stroke="#000" stroke-width="1.45"/>
<line x1="10.50" y1="322.40" x2="10.50" y2="402.10" stroke="#000" stroke-width="1.45"/>
<line x1="77.40" y1="283.60" x2="77.40" y2="402.10" stroke="#000" stroke-width="1.45"/>
<line x1="131.60" y1="283.60" x2="131.60" y2="402.10" stroke="#000" stroke-width="1.45"/>
<line x1="183.50" y1="283.60" x2="183.50" y2="402.10" stroke="#000" stroke-width="1.45"/>
<line x1="657.40" y1="283.60" x2="657.40" y2="402.10" stroke="#000" stroke-width="1.45"/>
<text x="104.60" y="308.3" class="tb it" text-anchor="middle">HFE</text>
<text x="157.30" y="308.3" class="tb it" text-anchor="middle">F9</text>
<text x="207.80" y="308.3" class="tb it" text-anchor="middle">1</text>
<text x="251.50" y="308.3" class="tb it" text-anchor="middle">2</text>
<text x="298.20" y="308.3" class="tb it" text-anchor="middle">3</text>
<text x="344.90" y="308.3" class="tb it" text-anchor="middle">4</text>
<text x="392.70" y="308.3" class="tb it" text-anchor="middle">5</text>
<text x="440.20" y="308.3" class="tb it" text-anchor="middle">6</text>
<text x="486.90" y="308.3" class="tb it" text-anchor="middle">7</text>
<text x="534.90" y="308.3" class="tb it" text-anchor="middle">8</text>
<text x="581.50" y="308.3" class="tb it" text-anchor="middle">9</text>
<text x="629.20" y="308.3" class="tb it" text-anchor="middle">10</text>
<text x="104.60" y="348.8" class="tb" text-anchor="middle">2</text>
<text x="157.30" y="348.8" class="tb" text-anchor="middle">1</text>
<text x="207.80" y="348.8" class="tb" text-anchor="middle">1</text>
<text x="251.50" y="348.8" class="tb" text-anchor="middle">2</text>
<text x="298.20" y="348.8" class="tb" text-anchor="middle">1</text>
<text x="344.90" y="348.8" class="tb" text-anchor="middle">1</text>
<text x="392.70" y="348.8" class="tb" text-anchor="middle">2</text>
<text x="440.20" y="348.8" class="tb" text-anchor="middle">1</text>
<text x="486.90" y="348.8" class="tb" text-anchor="middle">1</text>
<text x="534.90" y="348.8" class="tb" text-anchor="middle">1</text>
<text x="581.50" y="348.8" class="tb" text-anchor="middle">1</text>
<text x="629.20" y="348.8" class="tb" text-anchor="middle">1</text>
<text x="104.60" y="388.7" class="tb" text-anchor="middle">2</text>
<text x="157.30" y="388.7" class="tb" text-anchor="middle">1</text>
<text x="207.80" y="388.7" class="tb" text-anchor="middle">1</text>
<text x="251.50" y="388.7" class="tb" text-anchor="middle">1</text>
<text x="298.20" y="388.7" class="tb" text-anchor="middle">2</text>
<text x="344.90" y="388.7" class="tb" text-anchor="middle">2</text>
<text x="392.70" y="388.7" class="tb" text-anchor="middle">1</text>
<text x="440.20" y="388.7" class="tb" text-anchor="middle">2</text>
<text x="486.90" y="388.7" class="tb" text-anchor="middle">2</text>
<text x="534.90" y="388.7" class="tb" text-anchor="middle">2</text>
<text x="581.50" y="388.7" class="tb" text-anchor="middle">2</text>
<text x="629.20" y="388.7" class="tb" text-anchor="middle">2</text>
<text x="16.6" y="348.8" class="tb it">RHD</text>
<text x="16.6" y="388.7" class="tb it">RHCE</text>
</svg>
</body></html>
